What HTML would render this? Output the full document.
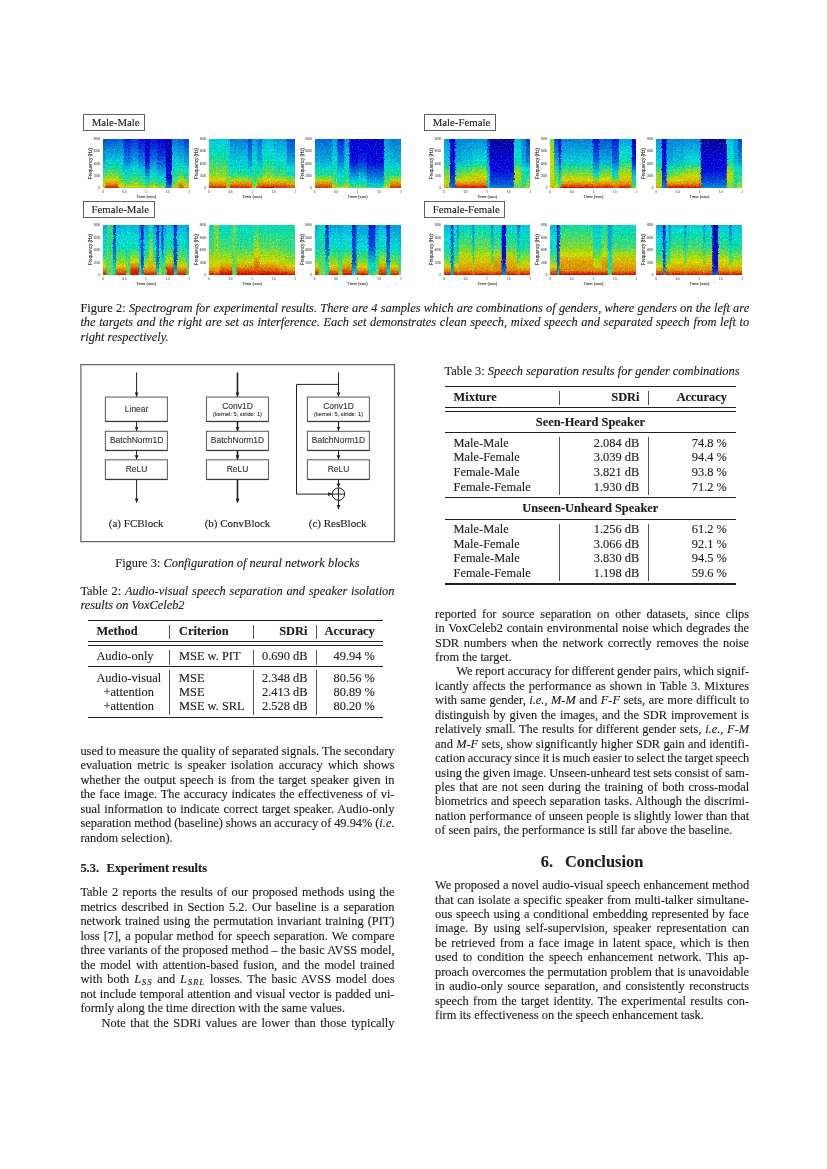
<!DOCTYPE html>
<html><head><meta charset="utf-8"><title>paper</title><style>
*{margin:0;padding:0;box-sizing:border-box}
html,body{width:827px;height:1169px;background:#fff;overflow:hidden}
#pg{position:relative;width:827px;height:1169px;background:#fff;font-family:"Liberation Serif",serif;color:#1c1c1c;filter:blur(0.35px);-webkit-text-stroke-width:0.12px}
.l{position:absolute;font-size:12.4px;line-height:14.45px;white-space:nowrap}
.j{text-align:justify;text-align-last:justify;white-space:normal;height:14.45px;overflow:visible}
.r{text-align:right}
.h2{font-size:16.4px;line-height:20px;text-align:center}
.hr{position:absolute;background:#222}
.vr{background:#555}
.sp{position:absolute;display:block}
.f3{position:absolute;left:0;top:0}
.sans{position:absolute;font-family:"Liberation Sans",sans-serif;color:#333;text-align:center;white-space:nowrap}
.serif{position:absolute;font-family:"Liberation Serif",serif;color:#222;text-align:center;white-space:nowrap}
.lb{position:absolute;border:1.1px solid #606060;background:#fff;font-size:10.8px;line-height:14px;color:#222}
.lb span{position:absolute;left:7.3px;top:-0.6px;white-space:nowrap}
.tk{position:absolute;font-family:"Liberation Sans",sans-serif;font-size:2.8px;line-height:4px;color:#777;width:8px;text-align:center;white-space:nowrap}
.yk{width:11px;text-align:right}
.tl{position:absolute;font-family:"Liberation Sans",sans-serif;font-size:4.3px;line-height:5px;color:#444;width:30px;text-align:center;white-space:nowrap}
.fl{position:absolute;font-family:"Liberation Sans",sans-serif;font-size:4.5px;line-height:5px;color:#333;width:40px;text-align:center;white-space:nowrap;transform:rotate(-90deg)}
sub.m{font-size:8.8px;font-style:italic;vertical-align:-2.2px;line-height:0;letter-spacing:0.9px;margin-left:0.8px}
</style></head>
<body><div id="pg">
<svg width="0" height="0" style="position:absolute"><defs><linearGradient id="g1_0" x1="0" y1="1" x2="0" y2="0"><stop offset="0" stop-color="#ff8000"/><stop offset="0.03" stop-color="#ff8f00"/><stop offset="0.06" stop-color="#ff9e00"/><stop offset="0.1" stop-color="#ffd500"/><stop offset="0.15" stop-color="#e5ff1a"/><stop offset="0.22" stop-color="#acff53"/><stop offset="0.3" stop-color="#6bff94"/><stop offset="0.42" stop-color="#1dffe2"/><stop offset="0.55" stop-color="#00c7ff"/><stop offset="0.7" stop-color="#00a5ff"/><stop offset="0.85" stop-color="#0083ff"/><stop offset="1" stop-color="#0061ff"/></linearGradient><linearGradient id="g1_1" x1="0" y1="1" x2="0" y2="0"><stop offset="0" stop-color="#ff1a00"/><stop offset="0.03" stop-color="#ff1a00"/><stop offset="0.06" stop-color="#ff1a00"/><stop offset="0.1" stop-color="#ff5e00"/><stop offset="0.15" stop-color="#ffb300"/><stop offset="0.22" stop-color="#f6ff09"/><stop offset="0.3" stop-color="#94ff6b"/><stop offset="0.42" stop-color="#46ffb9"/><stop offset="0.55" stop-color="#00f0ff"/><stop offset="0.7" stop-color="#00c0ff"/><stop offset="0.85" stop-color="#0091ff"/><stop offset="1" stop-color="#0061ff"/></linearGradient><linearGradient id="g1_2" x1="0" y1="1" x2="0" y2="0"><stop offset="0" stop-color="#ffb300"/><stop offset="0.03" stop-color="#ffbd00"/><stop offset="0.06" stop-color="#ffc700"/><stop offset="0.1" stop-color="#fff400"/><stop offset="0.15" stop-color="#d1ff2e"/><stop offset="0.22" stop-color="#9dff62"/><stop offset="0.3" stop-color="#61ff9e"/><stop offset="0.42" stop-color="#2bffd4"/><stop offset="0.55" stop-color="#00f0ff"/><stop offset="0.7" stop-color="#00c7ff"/><stop offset="0.85" stop-color="#009eff"/><stop offset="1" stop-color="#0075ff"/></linearGradient><linearGradient id="g1_3" x1="0" y1="1" x2="0" y2="0"><stop offset="0" stop-color="#ffb300"/><stop offset="0.03" stop-color="#ffc700"/><stop offset="0.06" stop-color="#ffdb00"/><stop offset="0.1" stop-color="#daff25"/><stop offset="0.15" stop-color="#80ff80"/><stop offset="0.22" stop-color="#50ffaf"/><stop offset="0.3" stop-color="#1affe5"/><stop offset="0.42" stop-color="#00deff"/><stop offset="0.55" stop-color="#009eff"/><stop offset="0.7" stop-color="#0079ff"/><stop offset="0.85" stop-color="#0053ff"/><stop offset="1" stop-color="#002eff"/></linearGradient><linearGradient id="g1_4" x1="0" y1="1" x2="0" y2="0"><stop offset="0" stop-color="#ff8000"/><stop offset="0.03" stop-color="#ff9900"/><stop offset="0.06" stop-color="#ffb300"/><stop offset="0.1" stop-color="#fff700"/><stop offset="0.15" stop-color="#b3ff4c"/><stop offset="0.22" stop-color="#7eff81"/><stop offset="0.3" stop-color="#42ffbd"/><stop offset="0.42" stop-color="#08fff7"/><stop offset="0.55" stop-color="#00c7ff"/><stop offset="0.7" stop-color="#009bff"/><stop offset="0.85" stop-color="#006fff"/><stop offset="1" stop-color="#0042ff"/></linearGradient><linearGradient id="g1_5" x1="0" y1="1" x2="0" y2="0"><stop offset="0" stop-color="#ffb300"/><stop offset="0.03" stop-color="#ffc700"/><stop offset="0.06" stop-color="#ffdb00"/><stop offset="0.1" stop-color="#daff25"/><stop offset="0.15" stop-color="#80ff80"/><stop offset="0.22" stop-color="#50ffaf"/><stop offset="0.3" stop-color="#1affe5"/><stop offset="0.42" stop-color="#00deff"/><stop offset="0.55" stop-color="#009eff"/><stop offset="0.7" stop-color="#0072ff"/><stop offset="0.85" stop-color="#0046ff"/><stop offset="1" stop-color="#001aff"/></linearGradient><linearGradient id="g1_6" x1="0" y1="1" x2="0" y2="0"><stop offset="0" stop-color="#faff05"/><stop offset="0.03" stop-color="#e5ff1a"/><stop offset="0.06" stop-color="#d1ff2e"/><stop offset="0.1" stop-color="#89ff76"/><stop offset="0.15" stop-color="#2effd1"/><stop offset="0.22" stop-color="#00f4ff"/><stop offset="0.3" stop-color="#00b3ff"/><stop offset="0.42" stop-color="#0069ff"/><stop offset="0.55" stop-color="#001aff"/><stop offset="0.7" stop-color="#0002ff"/><stop offset="0.85" stop-color="#0000e9"/><stop offset="1" stop-color="#0000d1"/></linearGradient><linearGradient id="g1_7" x1="0" y1="1" x2="0" y2="0"><stop offset="0" stop-color="#ff9e00"/><stop offset="0.03" stop-color="#ffb300"/><stop offset="0.06" stop-color="#ffc700"/><stop offset="0.1" stop-color="#e6ff19"/><stop offset="0.15" stop-color="#80ff80"/><stop offset="0.22" stop-color="#50ffaf"/><stop offset="0.3" stop-color="#1affe5"/><stop offset="0.42" stop-color="#00deff"/><stop offset="0.55" stop-color="#009eff"/><stop offset="0.7" stop-color="#0075ff"/><stop offset="0.85" stop-color="#004dff"/><stop offset="1" stop-color="#0024ff"/></linearGradient><linearGradient id="g1_8" x1="0" y1="1" x2="0" y2="0"><stop offset="0" stop-color="#ffe500"/><stop offset="0.03" stop-color="#ffff00"/><stop offset="0.06" stop-color="#e5ff1a"/><stop offset="0.1" stop-color="#a2ff5e"/><stop offset="0.15" stop-color="#4dffb3"/><stop offset="0.22" stop-color="#1dffe2"/><stop offset="0.3" stop-color="#00e5ff"/><stop offset="0.42" stop-color="#00b0ff"/><stop offset="0.55" stop-color="#0075ff"/><stop offset="0.7" stop-color="#0050ff"/><stop offset="0.85" stop-color="#002bff"/><stop offset="1" stop-color="#0005ff"/></linearGradient><linearGradient id="g1_9" x1="0" y1="1" x2="0" y2="0"><stop offset="0" stop-color="#2effd1"/><stop offset="0.03" stop-color="#00faff"/><stop offset="0.06" stop-color="#00c7ff"/><stop offset="0.1" stop-color="#009aff"/><stop offset="0.15" stop-color="#0061ff"/><stop offset="0.22" stop-color="#0040ff"/><stop offset="0.3" stop-color="#001aff"/><stop offset="0.42" stop-color="#0000fb"/><stop offset="0.55" stop-color="#0000db"/><stop offset="0.7" stop-color="#0000d1"/><stop offset="0.85" stop-color="#0000c7"/><stop offset="1" stop-color="#0000bd"/></linearGradient><linearGradient id="g1_10" x1="0" y1="1" x2="0" y2="0"><stop offset="0" stop-color="#faff05"/><stop offset="0.03" stop-color="#e5ff1a"/><stop offset="0.06" stop-color="#d1ff2e"/><stop offset="0.1" stop-color="#b6ff49"/><stop offset="0.15" stop-color="#94ff6b"/><stop offset="0.22" stop-color="#6eff91"/><stop offset="0.3" stop-color="#42ffbd"/><stop offset="0.42" stop-color="#1bffe4"/><stop offset="0.55" stop-color="#00f0ff"/><stop offset="0.7" stop-color="#00ceff"/><stop offset="0.85" stop-color="#00acff"/><stop offset="1" stop-color="#008aff"/></linearGradient><linearGradient id="g1_11" x1="0" y1="1" x2="0" y2="0"><stop offset="0" stop-color="#ff4c00"/><stop offset="0.03" stop-color="#ff4c00"/><stop offset="0.06" stop-color="#ff4c00"/><stop offset="0.1" stop-color="#ff8300"/><stop offset="0.15" stop-color="#ffc700"/><stop offset="0.22" stop-color="#d8ff27"/><stop offset="0.3" stop-color="#6bff94"/><stop offset="0.42" stop-color="#2bffd4"/><stop offset="0.55" stop-color="#00e5ff"/><stop offset="0.7" stop-color="#00c0ff"/><stop offset="0.85" stop-color="#009bff"/><stop offset="1" stop-color="#0075ff"/></linearGradient><linearGradient id="g1_12" x1="0" y1="1" x2="0" y2="0"><stop offset="0" stop-color="#ff8000"/><stop offset="0.03" stop-color="#ff9900"/><stop offset="0.06" stop-color="#ffb300"/><stop offset="0.1" stop-color="#ffed00"/><stop offset="0.15" stop-color="#c7ff38"/><stop offset="0.22" stop-color="#89ff76"/><stop offset="0.3" stop-color="#42ffbd"/><stop offset="0.42" stop-color="#08fff7"/><stop offset="0.55" stop-color="#00c7ff"/><stop offset="0.7" stop-color="#009eff"/><stop offset="0.85" stop-color="#0075ff"/><stop offset="1" stop-color="#004dff"/></linearGradient><linearGradient id="g2_0" x1="0" y1="1" x2="0" y2="0"><stop offset="0" stop-color="#ff1a00"/><stop offset="0.03" stop-color="#ff1a00"/><stop offset="0.06" stop-color="#ff1a00"/><stop offset="0.1" stop-color="#ff5e00"/><stop offset="0.15" stop-color="#ffb300"/><stop offset="0.22" stop-color="#fffa00"/><stop offset="0.3" stop-color="#b3ff4c"/><stop offset="0.42" stop-color="#82ff7d"/><stop offset="0.55" stop-color="#4dffb3"/><stop offset="0.7" stop-color="#24ffdb"/><stop offset="0.85" stop-color="#00faff"/><stop offset="1" stop-color="#00d1ff"/></linearGradient><linearGradient id="g2_1" x1="0" y1="1" x2="0" y2="0"><stop offset="0" stop-color="#b3ff4c"/><stop offset="0.03" stop-color="#ccff33"/><stop offset="0.06" stop-color="#e5ff1a"/><stop offset="0.1" stop-color="#cfff30"/><stop offset="0.15" stop-color="#b3ff4c"/><stop offset="0.22" stop-color="#9bff64"/><stop offset="0.3" stop-color="#80ff80"/><stop offset="0.42" stop-color="#58ffa7"/><stop offset="0.55" stop-color="#2effd1"/><stop offset="0.7" stop-color="#0ffff0"/><stop offset="0.85" stop-color="#00f0ff"/><stop offset="1" stop-color="#00d1ff"/></linearGradient><linearGradient id="g2_2" x1="0" y1="1" x2="0" y2="0"><stop offset="0" stop-color="#ff1a00"/><stop offset="0.03" stop-color="#ff1a00"/><stop offset="0.06" stop-color="#ff1a00"/><stop offset="0.1" stop-color="#ff5e00"/><stop offset="0.15" stop-color="#ffb300"/><stop offset="0.22" stop-color="#d4ff2b"/><stop offset="0.3" stop-color="#4dffb3"/><stop offset="0.42" stop-color="#20ffdf"/><stop offset="0.55" stop-color="#00f0ff"/><stop offset="0.7" stop-color="#00d1ff"/><stop offset="0.85" stop-color="#00b3ff"/><stop offset="1" stop-color="#0094ff"/></linearGradient><linearGradient id="g2_3" x1="0" y1="1" x2="0" y2="0"><stop offset="0" stop-color="#ff3800"/><stop offset="0.03" stop-color="#ff3800"/><stop offset="0.06" stop-color="#ff3800"/><stop offset="0.1" stop-color="#ff6f00"/><stop offset="0.15" stop-color="#ffb300"/><stop offset="0.22" stop-color="#bdff42"/><stop offset="0.3" stop-color="#1affe5"/><stop offset="0.42" stop-color="#00e8ff"/><stop offset="0.55" stop-color="#00b3ff"/><stop offset="0.7" stop-color="#0097ff"/><stop offset="0.85" stop-color="#007cff"/><stop offset="1" stop-color="#0061ff"/></linearGradient><linearGradient id="g2_4" x1="0" y1="1" x2="0" y2="0"><stop offset="0" stop-color="#e5ff1a"/><stop offset="0.03" stop-color="#e5ff1a"/><stop offset="0.06" stop-color="#e5ff1a"/><stop offset="0.1" stop-color="#b8ff47"/><stop offset="0.15" stop-color="#80ff80"/><stop offset="0.22" stop-color="#68ff97"/><stop offset="0.3" stop-color="#4dffb3"/><stop offset="0.42" stop-color="#2affd5"/><stop offset="0.55" stop-color="#05fffa"/><stop offset="0.7" stop-color="#00e9ff"/><stop offset="0.85" stop-color="#00ceff"/><stop offset="1" stop-color="#00b3ff"/></linearGradient><linearGradient id="g2_5" x1="0" y1="1" x2="0" y2="0"><stop offset="0" stop-color="#ff1a00"/><stop offset="0.03" stop-color="#ff1a00"/><stop offset="0.06" stop-color="#ff1a00"/><stop offset="0.1" stop-color="#ff5e00"/><stop offset="0.15" stop-color="#ffb300"/><stop offset="0.22" stop-color="#d4ff2b"/><stop offset="0.3" stop-color="#4dffb3"/><stop offset="0.42" stop-color="#12ffed"/><stop offset="0.55" stop-color="#00d1ff"/><stop offset="0.7" stop-color="#00b6ff"/><stop offset="0.85" stop-color="#009bff"/><stop offset="1" stop-color="#0080ff"/></linearGradient><linearGradient id="g2_6" x1="0" y1="1" x2="0" y2="0"><stop offset="0" stop-color="#fa0000"/><stop offset="0.03" stop-color="#fa0000"/><stop offset="0.06" stop-color="#fa0000"/><stop offset="0.1" stop-color="#ff4c00"/><stop offset="0.15" stop-color="#ffb300"/><stop offset="0.22" stop-color="#f6ff09"/><stop offset="0.3" stop-color="#94ff6b"/><stop offset="0.42" stop-color="#63ff9c"/><stop offset="0.55" stop-color="#2effd1"/><stop offset="0.7" stop-color="#0cfff3"/><stop offset="0.85" stop-color="#00e9ff"/><stop offset="1" stop-color="#00c7ff"/></linearGradient><linearGradient id="g2_7" x1="0" y1="1" x2="0" y2="0"><stop offset="0" stop-color="#ff1a00"/><stop offset="0.03" stop-color="#ff1a00"/><stop offset="0.06" stop-color="#ff1a00"/><stop offset="0.1" stop-color="#ff5e00"/><stop offset="0.15" stop-color="#ffb300"/><stop offset="0.22" stop-color="#e3ff1c"/><stop offset="0.3" stop-color="#6bff94"/><stop offset="0.42" stop-color="#3affc5"/><stop offset="0.55" stop-color="#05fffa"/><stop offset="0.7" stop-color="#00e9ff"/><stop offset="0.85" stop-color="#00ceff"/><stop offset="1" stop-color="#00b3ff"/></linearGradient><linearGradient id="g2_8" x1="0" y1="1" x2="0" y2="0"><stop offset="0" stop-color="#ff4c00"/><stop offset="0.03" stop-color="#ff4c00"/><stop offset="0.06" stop-color="#ff4c00"/><stop offset="0.1" stop-color="#ff8300"/><stop offset="0.15" stop-color="#ffc700"/><stop offset="0.22" stop-color="#bbff44"/><stop offset="0.3" stop-color="#2effd1"/><stop offset="0.42" stop-color="#00fcff"/><stop offset="0.55" stop-color="#00c7ff"/><stop offset="0.7" stop-color="#00a5ff"/><stop offset="0.85" stop-color="#0083ff"/><stop offset="1" stop-color="#0061ff"/></linearGradient><linearGradient id="g3_0" x1="0" y1="1" x2="0" y2="0"><stop offset="0" stop-color="#ff3800"/><stop offset="0.03" stop-color="#ff3800"/><stop offset="0.06" stop-color="#ff3800"/><stop offset="0.1" stop-color="#ff6f00"/><stop offset="0.15" stop-color="#ffb300"/><stop offset="0.22" stop-color="#d4ff2b"/><stop offset="0.3" stop-color="#4dffb3"/><stop offset="0.42" stop-color="#12ffed"/><stop offset="0.55" stop-color="#00d1ff"/><stop offset="0.7" stop-color="#00b6ff"/><stop offset="0.85" stop-color="#009bff"/><stop offset="1" stop-color="#0080ff"/></linearGradient><linearGradient id="g3_1" x1="0" y1="1" x2="0" y2="0"><stop offset="0" stop-color="#ffc700"/><stop offset="0.03" stop-color="#ffd600"/><stop offset="0.06" stop-color="#ffe500"/><stop offset="0.1" stop-color="#deff21"/><stop offset="0.15" stop-color="#94ff6b"/><stop offset="0.22" stop-color="#73ff8c"/><stop offset="0.3" stop-color="#4dffb3"/><stop offset="0.42" stop-color="#2affd5"/><stop offset="0.55" stop-color="#05fffa"/><stop offset="0.7" stop-color="#00e9ff"/><stop offset="0.85" stop-color="#00ceff"/><stop offset="1" stop-color="#00b3ff"/></linearGradient><linearGradient id="g3_2" x1="0" y1="1" x2="0" y2="0"><stop offset="0" stop-color="#ffb300"/><stop offset="0.03" stop-color="#ffdb00"/><stop offset="0.06" stop-color="#faff05"/><stop offset="0.1" stop-color="#adff52"/><stop offset="0.15" stop-color="#4dffb3"/><stop offset="0.22" stop-color="#2bffd4"/><stop offset="0.3" stop-color="#05fffa"/><stop offset="0.42" stop-color="#00d3ff"/><stop offset="0.55" stop-color="#009eff"/><stop offset="0.7" stop-color="#007cff"/><stop offset="0.85" stop-color="#005aff"/><stop offset="1" stop-color="#0038ff"/></linearGradient><linearGradient id="g3_3" x1="0" y1="1" x2="0" y2="0"><stop offset="0" stop-color="#ff9e00"/><stop offset="0.03" stop-color="#ffb300"/><stop offset="0.06" stop-color="#ffc700"/><stop offset="0.1" stop-color="#e6ff19"/><stop offset="0.15" stop-color="#80ff80"/><stop offset="0.22" stop-color="#5effa1"/><stop offset="0.3" stop-color="#38ffc7"/><stop offset="0.42" stop-color="#16ffe9"/><stop offset="0.55" stop-color="#00f0ff"/><stop offset="0.7" stop-color="#00dbff"/><stop offset="0.85" stop-color="#00c7ff"/><stop offset="1" stop-color="#00b3ff"/></linearGradient><linearGradient id="g3_4" x1="0" y1="1" x2="0" y2="0"><stop offset="0" stop-color="#faff05"/><stop offset="0.03" stop-color="#d6ff29"/><stop offset="0.06" stop-color="#b3ff4c"/><stop offset="0.1" stop-color="#6fff91"/><stop offset="0.15" stop-color="#1affe5"/><stop offset="0.22" stop-color="#00e9ff"/><stop offset="0.3" stop-color="#00b3ff"/><stop offset="0.42" stop-color="#0073ff"/><stop offset="0.55" stop-color="#002eff"/><stop offset="0.7" stop-color="#0013ff"/><stop offset="0.85" stop-color="#0000f7"/><stop offset="1" stop-color="#0000db"/></linearGradient><linearGradient id="g3_5" x1="0" y1="1" x2="0" y2="0"><stop offset="0" stop-color="#ffe500"/><stop offset="0.03" stop-color="#f5ff0a"/><stop offset="0.06" stop-color="#d1ff2e"/><stop offset="0.1" stop-color="#89ff76"/><stop offset="0.15" stop-color="#2effd1"/><stop offset="0.22" stop-color="#03fffc"/><stop offset="0.3" stop-color="#00d1ff"/><stop offset="0.42" stop-color="#0091ff"/><stop offset="0.55" stop-color="#004dff"/><stop offset="0.7" stop-color="#0035ff"/><stop offset="0.85" stop-color="#001dff"/><stop offset="1" stop-color="#0005ff"/></linearGradient><linearGradient id="g3_6" x1="0" y1="1" x2="0" y2="0"><stop offset="0" stop-color="#b3ff4c"/><stop offset="0.03" stop-color="#8fff70"/><stop offset="0.06" stop-color="#6bff94"/><stop offset="0.1" stop-color="#30ffcf"/><stop offset="0.15" stop-color="#00e5ff"/><stop offset="0.22" stop-color="#00bfff"/><stop offset="0.3" stop-color="#0094ff"/><stop offset="0.42" stop-color="#005eff"/><stop offset="0.55" stop-color="#0024ff"/><stop offset="0.7" stop-color="#000cff"/><stop offset="0.85" stop-color="#0000f3"/><stop offset="1" stop-color="#0000db"/></linearGradient><linearGradient id="g3_7" x1="0" y1="1" x2="0" y2="0"><stop offset="0" stop-color="#ffb300"/><stop offset="0.03" stop-color="#ffcc00"/><stop offset="0.06" stop-color="#ffe500"/><stop offset="0.1" stop-color="#deff21"/><stop offset="0.15" stop-color="#94ff6b"/><stop offset="0.22" stop-color="#73ff8c"/><stop offset="0.3" stop-color="#4dffb3"/><stop offset="0.42" stop-color="#20ffdf"/><stop offset="0.55" stop-color="#00f0ff"/><stop offset="0.7" stop-color="#00dbff"/><stop offset="0.85" stop-color="#00c7ff"/><stop offset="1" stop-color="#00b3ff"/></linearGradient><linearGradient id="g3_8" x1="0" y1="1" x2="0" y2="0"><stop offset="0" stop-color="#ff3800"/><stop offset="0.03" stop-color="#ff3800"/><stop offset="0.06" stop-color="#ff3800"/><stop offset="0.1" stop-color="#ff6f00"/><stop offset="0.15" stop-color="#ffb300"/><stop offset="0.22" stop-color="#d4ff2b"/><stop offset="0.3" stop-color="#4dffb3"/><stop offset="0.42" stop-color="#17ffe8"/><stop offset="0.55" stop-color="#00dbff"/><stop offset="0.7" stop-color="#00c4ff"/><stop offset="0.85" stop-color="#00acff"/><stop offset="1" stop-color="#0094ff"/></linearGradient><linearGradient id="g4_0" x1="0" y1="1" x2="0" y2="0"><stop offset="0" stop-color="#ffb300"/><stop offset="0.03" stop-color="#ff9900"/><stop offset="0.06" stop-color="#ff8000"/><stop offset="0.1" stop-color="#ffcd00"/><stop offset="0.15" stop-color="#d1ff2e"/><stop offset="0.22" stop-color="#c3ff3c"/><stop offset="0.3" stop-color="#b3ff4c"/><stop offset="0.42" stop-color="#55ffaa"/><stop offset="0.55" stop-color="#00f0ff"/><stop offset="0.7" stop-color="#00dbff"/><stop offset="0.85" stop-color="#00c7ff"/><stop offset="1" stop-color="#00b3ff"/></linearGradient><linearGradient id="g4_1" x1="0" y1="1" x2="0" y2="0"><stop offset="0" stop-color="#00e5ff"/><stop offset="0.03" stop-color="#00ccff"/><stop offset="0.06" stop-color="#00b3ff"/><stop offset="0.1" stop-color="#009cff"/><stop offset="0.15" stop-color="#0080ff"/><stop offset="0.22" stop-color="#0068ff"/><stop offset="0.3" stop-color="#004dff"/><stop offset="0.42" stop-color="#0034ff"/><stop offset="0.55" stop-color="#001aff"/><stop offset="0.7" stop-color="#0008ff"/><stop offset="0.85" stop-color="#0000f7"/><stop offset="1" stop-color="#0000e6"/></linearGradient><linearGradient id="g4_2" x1="0" y1="1" x2="0" y2="0"><stop offset="0" stop-color="#fa0000"/><stop offset="0.03" stop-color="#fa0000"/><stop offset="0.06" stop-color="#fa0000"/><stop offset="0.1" stop-color="#ff4c00"/><stop offset="0.15" stop-color="#ffb300"/><stop offset="0.22" stop-color="#ecff13"/><stop offset="0.3" stop-color="#80ff80"/><stop offset="0.42" stop-color="#2cffd3"/><stop offset="0.55" stop-color="#00d1ff"/><stop offset="0.7" stop-color="#00c0ff"/><stop offset="0.85" stop-color="#00afff"/><stop offset="1" stop-color="#009eff"/></linearGradient><linearGradient id="g4_3" x1="0" y1="1" x2="0" y2="0"><stop offset="0" stop-color="#fa0000"/><stop offset="0.03" stop-color="#fa0000"/><stop offset="0.06" stop-color="#fa0000"/><stop offset="0.1" stop-color="#ff4c00"/><stop offset="0.15" stop-color="#ffb300"/><stop offset="0.22" stop-color="#fffa00"/><stop offset="0.3" stop-color="#b3ff4c"/><stop offset="0.42" stop-color="#51ffae"/><stop offset="0.55" stop-color="#00e5ff"/><stop offset="0.7" stop-color="#00ceff"/><stop offset="0.85" stop-color="#00b6ff"/><stop offset="1" stop-color="#009eff"/></linearGradient><linearGradient id="g4_4" x1="0" y1="1" x2="0" y2="0"><stop offset="0" stop-color="#fa0000"/><stop offset="0.03" stop-color="#fa0000"/><stop offset="0.06" stop-color="#fa0000"/><stop offset="0.1" stop-color="#ff4c00"/><stop offset="0.15" stop-color="#ffb300"/><stop offset="0.22" stop-color="#ffe200"/><stop offset="0.3" stop-color="#e5ff1a"/><stop offset="0.42" stop-color="#7aff85"/><stop offset="0.55" stop-color="#05fffa"/><stop offset="0.7" stop-color="#00e2ff"/><stop offset="0.85" stop-color="#00c0ff"/><stop offset="1" stop-color="#009eff"/></linearGradient><linearGradient id="g4_5" x1="0" y1="1" x2="0" y2="0"><stop offset="0" stop-color="#80ff80"/><stop offset="0.03" stop-color="#57ffa8"/><stop offset="0.06" stop-color="#2effd1"/><stop offset="0.1" stop-color="#25ffda"/><stop offset="0.15" stop-color="#1affe5"/><stop offset="0.22" stop-color="#1affe5"/><stop offset="0.3" stop-color="#1affe5"/><stop offset="0.42" stop-color="#00deff"/><stop offset="0.55" stop-color="#009eff"/><stop offset="0.7" stop-color="#008aff"/><stop offset="0.85" stop-color="#0075ff"/><stop offset="1" stop-color="#0061ff"/></linearGradient><linearGradient id="g4_6" x1="0" y1="1" x2="0" y2="0"><stop offset="0" stop-color="#00e5ff"/><stop offset="0.03" stop-color="#00ccff"/><stop offset="0.06" stop-color="#00b3ff"/><stop offset="0.1" stop-color="#009cff"/><stop offset="0.15" stop-color="#0080ff"/><stop offset="0.22" stop-color="#0068ff"/><stop offset="0.3" stop-color="#004dff"/><stop offset="0.42" stop-color="#0025ff"/><stop offset="0.55" stop-color="#0000fa"/><stop offset="0.7" stop-color="#0000e2"/><stop offset="0.85" stop-color="#0000ca"/><stop offset="1" stop-color="#0000b3"/></linearGradient><linearGradient id="g4_7" x1="0" y1="1" x2="0" y2="0"><stop offset="0" stop-color="#4dffb3"/><stop offset="0.03" stop-color="#66ff99"/><stop offset="0.06" stop-color="#80ff80"/><stop offset="0.1" stop-color="#89ff76"/><stop offset="0.15" stop-color="#94ff6b"/><stop offset="0.22" stop-color="#baff45"/><stop offset="0.3" stop-color="#e5ff1a"/><stop offset="0.42" stop-color="#84ff7b"/><stop offset="0.55" stop-color="#1affe5"/><stop offset="0.7" stop-color="#02fffd"/><stop offset="0.85" stop-color="#00e9ff"/><stop offset="1" stop-color="#00d1ff"/></linearGradient><linearGradient id="g4_8" x1="0" y1="1" x2="0" y2="0"><stop offset="0" stop-color="#b3ff4c"/><stop offset="0.03" stop-color="#99ff66"/><stop offset="0.06" stop-color="#80ff80"/><stop offset="0.1" stop-color="#69ff96"/><stop offset="0.15" stop-color="#4dffb3"/><stop offset="0.22" stop-color="#3effc1"/><stop offset="0.3" stop-color="#2effd1"/><stop offset="0.42" stop-color="#02fffd"/><stop offset="0.55" stop-color="#00d1ff"/><stop offset="0.7" stop-color="#00c0ff"/><stop offset="0.85" stop-color="#00afff"/><stop offset="1" stop-color="#009eff"/></linearGradient><linearGradient id="g4_9" x1="0" y1="1" x2="0" y2="0"><stop offset="0" stop-color="#ffb300"/><stop offset="0.03" stop-color="#ffdb00"/><stop offset="0.06" stop-color="#faff05"/><stop offset="0.1" stop-color="#c3ff3c"/><stop offset="0.15" stop-color="#80ff80"/><stop offset="0.22" stop-color="#68ff97"/><stop offset="0.3" stop-color="#4dffb3"/><stop offset="0.42" stop-color="#00f8ff"/><stop offset="0.55" stop-color="#009eff"/><stop offset="0.7" stop-color="#0083ff"/><stop offset="0.85" stop-color="#0068ff"/><stop offset="1" stop-color="#004dff"/></linearGradient><linearGradient id="g5_0" x1="0" y1="1" x2="0" y2="0"><stop offset="0" stop-color="#ff8000"/><stop offset="0.03" stop-color="#ff8f00"/><stop offset="0.06" stop-color="#ff9e00"/><stop offset="0.1" stop-color="#ffde00"/><stop offset="0.15" stop-color="#d1ff2e"/><stop offset="0.22" stop-color="#dbff24"/><stop offset="0.3" stop-color="#e5ff1a"/><stop offset="0.42" stop-color="#efff10"/><stop offset="0.55" stop-color="#faff05"/><stop offset="0.7" stop-color="#d1ff2e"/><stop offset="0.85" stop-color="#a8ff57"/><stop offset="1" stop-color="#80ff80"/></linearGradient><linearGradient id="g5_1" x1="0" y1="1" x2="0" y2="0"><stop offset="0" stop-color="#ff8000"/><stop offset="0.03" stop-color="#ffa300"/><stop offset="0.06" stop-color="#ffc700"/><stop offset="0.1" stop-color="#fcff03"/><stop offset="0.15" stop-color="#b3ff4c"/><stop offset="0.22" stop-color="#9bff64"/><stop offset="0.3" stop-color="#80ff80"/><stop offset="0.42" stop-color="#2cffd3"/><stop offset="0.55" stop-color="#00d1ff"/><stop offset="0.7" stop-color="#00a5ff"/><stop offset="0.85" stop-color="#0079ff"/><stop offset="1" stop-color="#004dff"/></linearGradient><linearGradient id="g5_2" x1="0" y1="1" x2="0" y2="0"><stop offset="0" stop-color="#e5ff1a"/><stop offset="0.03" stop-color="#b3ff4c"/><stop offset="0.06" stop-color="#80ff80"/><stop offset="0.1" stop-color="#52ffad"/><stop offset="0.15" stop-color="#1affe5"/><stop offset="0.22" stop-color="#02fffd"/><stop offset="0.3" stop-color="#00e5ff"/><stop offset="0.42" stop-color="#00a6ff"/><stop offset="0.55" stop-color="#0061ff"/><stop offset="0.7" stop-color="#0042ff"/><stop offset="0.85" stop-color="#0024ff"/><stop offset="1" stop-color="#0005ff"/></linearGradient><linearGradient id="g5_3" x1="0" y1="1" x2="0" y2="0"><stop offset="0" stop-color="#fa0000"/><stop offset="0.03" stop-color="#fa0000"/><stop offset="0.06" stop-color="#fa0000"/><stop offset="0.1" stop-color="#ff4c00"/><stop offset="0.15" stop-color="#ffb300"/><stop offset="0.22" stop-color="#fffa00"/><stop offset="0.3" stop-color="#b3ff4c"/><stop offset="0.42" stop-color="#55ffaa"/><stop offset="0.55" stop-color="#00f0ff"/><stop offset="0.7" stop-color="#00d1ff"/><stop offset="0.85" stop-color="#00b3ff"/><stop offset="1" stop-color="#0094ff"/></linearGradient><linearGradient id="g5_4" x1="0" y1="1" x2="0" y2="0"><stop offset="0" stop-color="#ff3800"/><stop offset="0.03" stop-color="#ff3800"/><stop offset="0.06" stop-color="#ff3800"/><stop offset="0.1" stop-color="#ff6f00"/><stop offset="0.15" stop-color="#ffb300"/><stop offset="0.22" stop-color="#b3ff4c"/><stop offset="0.3" stop-color="#05fffa"/><stop offset="0.42" stop-color="#00c9ff"/><stop offset="0.55" stop-color="#008aff"/><stop offset="0.7" stop-color="#0068ff"/><stop offset="0.85" stop-color="#0046ff"/><stop offset="1" stop-color="#0024ff"/></linearGradient><linearGradient id="g5_5" x1="0" y1="1" x2="0" y2="0"><stop offset="0" stop-color="#ff1a00"/><stop offset="0.03" stop-color="#ff1a00"/><stop offset="0.06" stop-color="#ff1a00"/><stop offset="0.1" stop-color="#ff5e00"/><stop offset="0.15" stop-color="#ffb300"/><stop offset="0.22" stop-color="#fffa00"/><stop offset="0.3" stop-color="#b3ff4c"/><stop offset="0.42" stop-color="#47ffb8"/><stop offset="0.55" stop-color="#00d1ff"/><stop offset="0.7" stop-color="#00afff"/><stop offset="0.85" stop-color="#008dff"/><stop offset="1" stop-color="#006bff"/></linearGradient><linearGradient id="g5_6" x1="0" y1="1" x2="0" y2="0"><stop offset="0" stop-color="#ff4c00"/><stop offset="0.03" stop-color="#ff4c00"/><stop offset="0.06" stop-color="#ff4c00"/><stop offset="0.1" stop-color="#ff8300"/><stop offset="0.15" stop-color="#ffc700"/><stop offset="0.22" stop-color="#a8ff57"/><stop offset="0.3" stop-color="#05fffa"/><stop offset="0.42" stop-color="#00c9ff"/><stop offset="0.55" stop-color="#008aff"/><stop offset="0.7" stop-color="#006fff"/><stop offset="0.85" stop-color="#0053ff"/><stop offset="1" stop-color="#0038ff"/></linearGradient><linearGradient id="g5_7" x1="0" y1="1" x2="0" y2="0"><stop offset="0" stop-color="#ff1a00"/><stop offset="0.03" stop-color="#ff1a00"/><stop offset="0.06" stop-color="#ff1a00"/><stop offset="0.1" stop-color="#ff5e00"/><stop offset="0.15" stop-color="#ffb300"/><stop offset="0.22" stop-color="#ffe200"/><stop offset="0.3" stop-color="#e5ff1a"/><stop offset="0.42" stop-color="#8dff72"/><stop offset="0.55" stop-color="#2effd1"/><stop offset="0.7" stop-color="#05fffa"/><stop offset="0.85" stop-color="#00dbff"/><stop offset="1" stop-color="#00b3ff"/></linearGradient><linearGradient id="g5_8" x1="0" y1="1" x2="0" y2="0"><stop offset="0" stop-color="#ffb300"/><stop offset="0.03" stop-color="#ffff00"/><stop offset="0.06" stop-color="#b3ff4c"/><stop offset="0.1" stop-color="#85ff7a"/><stop offset="0.15" stop-color="#4dffb3"/><stop offset="0.22" stop-color="#1dffe2"/><stop offset="0.3" stop-color="#00e5ff"/><stop offset="0.42" stop-color="#0092ff"/><stop offset="0.55" stop-color="#0038ff"/><stop offset="0.7" stop-color="#001dff"/><stop offset="0.85" stop-color="#0002ff"/><stop offset="1" stop-color="#0000e6"/></linearGradient><linearGradient id="g6_0" x1="0" y1="1" x2="0" y2="0"><stop offset="0" stop-color="#ffb300"/><stop offset="0.03" stop-color="#ff9900"/><stop offset="0.06" stop-color="#ff8000"/><stop offset="0.1" stop-color="#ffcd00"/><stop offset="0.15" stop-color="#d1ff2e"/><stop offset="0.22" stop-color="#c3ff3c"/><stop offset="0.3" stop-color="#b3ff4c"/><stop offset="0.42" stop-color="#55ffaa"/><stop offset="0.55" stop-color="#00f0ff"/><stop offset="0.7" stop-color="#00dbff"/><stop offset="0.85" stop-color="#00c7ff"/><stop offset="1" stop-color="#00b3ff"/></linearGradient><linearGradient id="g6_1" x1="0" y1="1" x2="0" y2="0"><stop offset="0" stop-color="#00e5ff"/><stop offset="0.03" stop-color="#00ccff"/><stop offset="0.06" stop-color="#00b3ff"/><stop offset="0.1" stop-color="#009cff"/><stop offset="0.15" stop-color="#0080ff"/><stop offset="0.22" stop-color="#0068ff"/><stop offset="0.3" stop-color="#004dff"/><stop offset="0.42" stop-color="#002fff"/><stop offset="0.55" stop-color="#000fff"/><stop offset="0.7" stop-color="#0002ff"/><stop offset="0.85" stop-color="#0000f3"/><stop offset="1" stop-color="#0000e6"/></linearGradient><linearGradient id="g6_2" x1="0" y1="1" x2="0" y2="0"><stop offset="0" stop-color="#fa0000"/><stop offset="0.03" stop-color="#fa0000"/><stop offset="0.06" stop-color="#fa0000"/><stop offset="0.1" stop-color="#ff4c00"/><stop offset="0.15" stop-color="#ffb300"/><stop offset="0.22" stop-color="#ecff13"/><stop offset="0.3" stop-color="#80ff80"/><stop offset="0.42" stop-color="#2cffd3"/><stop offset="0.55" stop-color="#00d1ff"/><stop offset="0.7" stop-color="#00c0ff"/><stop offset="0.85" stop-color="#00afff"/><stop offset="1" stop-color="#009eff"/></linearGradient><linearGradient id="g6_3" x1="0" y1="1" x2="0" y2="0"><stop offset="0" stop-color="#fa0000"/><stop offset="0.03" stop-color="#fa0000"/><stop offset="0.06" stop-color="#fa0000"/><stop offset="0.1" stop-color="#ff4c00"/><stop offset="0.15" stop-color="#ffb300"/><stop offset="0.22" stop-color="#fffa00"/><stop offset="0.3" stop-color="#b3ff4c"/><stop offset="0.42" stop-color="#51ffae"/><stop offset="0.55" stop-color="#00e5ff"/><stop offset="0.7" stop-color="#00ceff"/><stop offset="0.85" stop-color="#00b6ff"/><stop offset="1" stop-color="#009eff"/></linearGradient><linearGradient id="g6_4" x1="0" y1="1" x2="0" y2="0"><stop offset="0" stop-color="#fa0000"/><stop offset="0.03" stop-color="#fa0000"/><stop offset="0.06" stop-color="#fa0000"/><stop offset="0.1" stop-color="#ff4c00"/><stop offset="0.15" stop-color="#ffb300"/><stop offset="0.22" stop-color="#ffe200"/><stop offset="0.3" stop-color="#e5ff1a"/><stop offset="0.42" stop-color="#7aff85"/><stop offset="0.55" stop-color="#05fffa"/><stop offset="0.7" stop-color="#00e2ff"/><stop offset="0.85" stop-color="#00c0ff"/><stop offset="1" stop-color="#009eff"/></linearGradient><linearGradient id="g6_5" x1="0" y1="1" x2="0" y2="0"><stop offset="0" stop-color="#05fffa"/><stop offset="0.03" stop-color="#00e5ff"/><stop offset="0.06" stop-color="#00c7ff"/><stop offset="0.1" stop-color="#00acff"/><stop offset="0.15" stop-color="#008aff"/><stop offset="0.22" stop-color="#006dff"/><stop offset="0.3" stop-color="#004dff"/><stop offset="0.42" stop-color="#0025ff"/><stop offset="0.55" stop-color="#0000fa"/><stop offset="0.7" stop-color="#0000e2"/><stop offset="0.85" stop-color="#0000ca"/><stop offset="1" stop-color="#0000b3"/></linearGradient><linearGradient id="g6_6" x1="0" y1="1" x2="0" y2="0"><stop offset="0" stop-color="#80ff80"/><stop offset="0.03" stop-color="#8aff75"/><stop offset="0.06" stop-color="#94ff6b"/><stop offset="0.1" stop-color="#a2ff5d"/><stop offset="0.15" stop-color="#b3ff4c"/><stop offset="0.22" stop-color="#caff35"/><stop offset="0.3" stop-color="#e5ff1a"/><stop offset="0.42" stop-color="#8dff72"/><stop offset="0.55" stop-color="#2effd1"/><stop offset="0.7" stop-color="#0ffff0"/><stop offset="0.85" stop-color="#00f0ff"/><stop offset="1" stop-color="#00d1ff"/></linearGradient><linearGradient id="g6_7" x1="0" y1="1" x2="0" y2="0"><stop offset="0" stop-color="#b3ff4c"/><stop offset="0.03" stop-color="#99ff66"/><stop offset="0.06" stop-color="#80ff80"/><stop offset="0.1" stop-color="#69ff96"/><stop offset="0.15" stop-color="#4dffb3"/><stop offset="0.22" stop-color="#3effc1"/><stop offset="0.3" stop-color="#2effd1"/><stop offset="0.42" stop-color="#07fff8"/><stop offset="0.55" stop-color="#00dbff"/><stop offset="0.7" stop-color="#00ceff"/><stop offset="0.85" stop-color="#00c0ff"/><stop offset="1" stop-color="#00b3ff"/></linearGradient><linearGradient id="g6_8" x1="0" y1="1" x2="0" y2="0"><stop offset="0" stop-color="#ffb300"/><stop offset="0.03" stop-color="#ffdb00"/><stop offset="0.06" stop-color="#faff05"/><stop offset="0.1" stop-color="#c3ff3c"/><stop offset="0.15" stop-color="#80ff80"/><stop offset="0.22" stop-color="#68ff97"/><stop offset="0.3" stop-color="#4dffb3"/><stop offset="0.42" stop-color="#03fffc"/><stop offset="0.55" stop-color="#00b3ff"/><stop offset="0.7" stop-color="#0097ff"/><stop offset="0.85" stop-color="#007cff"/><stop offset="1" stop-color="#0061ff"/></linearGradient><linearGradient id="g7_0" x1="0" y1="1" x2="0" y2="0"><stop offset="0" stop-color="#ff3800"/><stop offset="0.03" stop-color="#ff2e00"/><stop offset="0.06" stop-color="#ff2400"/><stop offset="0.1" stop-color="#ff5a00"/><stop offset="0.15" stop-color="#ff9e00"/><stop offset="0.22" stop-color="#fffd00"/><stop offset="0.3" stop-color="#94ff6b"/><stop offset="0.42" stop-color="#4fffb0"/><stop offset="0.55" stop-color="#05fffa"/><stop offset="0.7" stop-color="#00f0ff"/><stop offset="0.85" stop-color="#00dbff"/><stop offset="1" stop-color="#00c7ff"/></linearGradient><linearGradient id="g7_1" x1="0" y1="1" x2="0" y2="0"><stop offset="0" stop-color="#80ff80"/><stop offset="0.03" stop-color="#80ff80"/><stop offset="0.06" stop-color="#80ff80"/><stop offset="0.1" stop-color="#80ff80"/><stop offset="0.15" stop-color="#80ff80"/><stop offset="0.22" stop-color="#80ff80"/><stop offset="0.3" stop-color="#80ff80"/><stop offset="0.42" stop-color="#67ff98"/><stop offset="0.55" stop-color="#4dffb3"/><stop offset="0.7" stop-color="#4dffb3"/><stop offset="0.85" stop-color="#4dffb3"/><stop offset="1" stop-color="#4dffb3"/></linearGradient><linearGradient id="g7_2" x1="0" y1="1" x2="0" y2="0"><stop offset="0" stop-color="#4dffb3"/><stop offset="0.03" stop-color="#3dffc2"/><stop offset="0.06" stop-color="#2effd1"/><stop offset="0.1" stop-color="#1cffe3"/><stop offset="0.15" stop-color="#05fffa"/><stop offset="0.22" stop-color="#00e8ff"/><stop offset="0.3" stop-color="#00c7ff"/><stop offset="0.42" stop-color="#009bff"/><stop offset="0.55" stop-color="#006bff"/><stop offset="0.7" stop-color="#005eff"/><stop offset="0.85" stop-color="#0050ff"/><stop offset="1" stop-color="#0042ff"/></linearGradient><linearGradient id="g7_3" x1="0" y1="1" x2="0" y2="0"><stop offset="0" stop-color="#ff3800"/><stop offset="0.03" stop-color="#ff2e00"/><stop offset="0.06" stop-color="#ff2400"/><stop offset="0.1" stop-color="#ff5a00"/><stop offset="0.15" stop-color="#ff9e00"/><stop offset="0.22" stop-color="#ffef00"/><stop offset="0.3" stop-color="#b3ff4c"/><stop offset="0.42" stop-color="#6eff91"/><stop offset="0.55" stop-color="#24ffdb"/><stop offset="0.7" stop-color="#05fffa"/><stop offset="0.85" stop-color="#00e5ff"/><stop offset="1" stop-color="#00c7ff"/></linearGradient><linearGradient id="g7_4" x1="0" y1="1" x2="0" y2="0"><stop offset="0" stop-color="#80ff80"/><stop offset="0.03" stop-color="#80ff80"/><stop offset="0.06" stop-color="#80ff80"/><stop offset="0.1" stop-color="#80ff80"/><stop offset="0.15" stop-color="#80ff80"/><stop offset="0.22" stop-color="#80ff80"/><stop offset="0.3" stop-color="#80ff80"/><stop offset="0.42" stop-color="#4fffb0"/><stop offset="0.55" stop-color="#1affe5"/><stop offset="0.7" stop-color="#09fff6"/><stop offset="0.85" stop-color="#00f7ff"/><stop offset="1" stop-color="#00e5ff"/></linearGradient><linearGradient id="g7_5" x1="0" y1="1" x2="0" y2="0"><stop offset="0" stop-color="#ff3800"/><stop offset="0.03" stop-color="#ff2e00"/><stop offset="0.06" stop-color="#ff2400"/><stop offset="0.1" stop-color="#ff3600"/><stop offset="0.15" stop-color="#ff4c00"/><stop offset="0.22" stop-color="#ffa200"/><stop offset="0.3" stop-color="#faff05"/><stop offset="0.42" stop-color="#93ff6c"/><stop offset="0.55" stop-color="#24ffdb"/><stop offset="0.7" stop-color="#05fffa"/><stop offset="0.85" stop-color="#00e5ff"/><stop offset="1" stop-color="#00c7ff"/></linearGradient><linearGradient id="g7_6" x1="0" y1="1" x2="0" y2="0"><stop offset="0" stop-color="#80ff80"/><stop offset="0.03" stop-color="#75ff8a"/><stop offset="0.06" stop-color="#6bff94"/><stop offset="0.1" stop-color="#5effa2"/><stop offset="0.15" stop-color="#4dffb3"/><stop offset="0.22" stop-color="#3effc1"/><stop offset="0.3" stop-color="#2effd1"/><stop offset="0.42" stop-color="#02fffd"/><stop offset="0.55" stop-color="#00d1ff"/><stop offset="0.7" stop-color="#00c0ff"/><stop offset="0.85" stop-color="#00afff"/><stop offset="1" stop-color="#009eff"/></linearGradient><linearGradient id="g7_7" x1="0" y1="1" x2="0" y2="0"><stop offset="0" stop-color="#1affe5"/><stop offset="0.03" stop-color="#00ffff"/><stop offset="0.06" stop-color="#00e5ff"/><stop offset="0.1" stop-color="#00cfff"/><stop offset="0.15" stop-color="#00b3ff"/><stop offset="0.22" stop-color="#008cff"/><stop offset="0.3" stop-color="#0061ff"/><stop offset="0.42" stop-color="#0066ff"/><stop offset="0.55" stop-color="#006bff"/><stop offset="0.7" stop-color="#005eff"/><stop offset="0.85" stop-color="#0050ff"/><stop offset="1" stop-color="#0042ff"/></linearGradient><linearGradient id="g7_8" x1="0" y1="1" x2="0" y2="0"><stop offset="0" stop-color="#ff3800"/><stop offset="0.03" stop-color="#ff2e00"/><stop offset="0.06" stop-color="#ff2400"/><stop offset="0.1" stop-color="#ff6300"/><stop offset="0.15" stop-color="#ffb300"/><stop offset="0.22" stop-color="#f6ff09"/><stop offset="0.3" stop-color="#94ff6b"/><stop offset="0.42" stop-color="#4fffb0"/><stop offset="0.55" stop-color="#05fffa"/><stop offset="0.7" stop-color="#00e9ff"/><stop offset="0.85" stop-color="#00ceff"/><stop offset="1" stop-color="#00b3ff"/></linearGradient><linearGradient id="g7_9" x1="0" y1="1" x2="0" y2="0"><stop offset="0" stop-color="#ff3800"/><stop offset="0.03" stop-color="#ff2e00"/><stop offset="0.06" stop-color="#ff2400"/><stop offset="0.1" stop-color="#ff6300"/><stop offset="0.15" stop-color="#ffb300"/><stop offset="0.22" stop-color="#ffca00"/><stop offset="0.3" stop-color="#ffe500"/><stop offset="0.42" stop-color="#deff21"/><stop offset="0.55" stop-color="#9eff61"/><stop offset="0.7" stop-color="#61ff9e"/><stop offset="0.85" stop-color="#24ffdb"/><stop offset="1" stop-color="#00e5ff"/></linearGradient><linearGradient id="g7_10" x1="0" y1="1" x2="0" y2="0"><stop offset="0" stop-color="#ff3800"/><stop offset="0.03" stop-color="#ff2e00"/><stop offset="0.06" stop-color="#ff2400"/><stop offset="0.1" stop-color="#ff6300"/><stop offset="0.15" stop-color="#ffb300"/><stop offset="0.22" stop-color="#ecff13"/><stop offset="0.3" stop-color="#80ff80"/><stop offset="0.42" stop-color="#45ffba"/><stop offset="0.55" stop-color="#05fffa"/><stop offset="0.7" stop-color="#00e9ff"/><stop offset="0.85" stop-color="#00ceff"/><stop offset="1" stop-color="#00b3ff"/></linearGradient><linearGradient id="g7_11" x1="0" y1="1" x2="0" y2="0"><stop offset="0" stop-color="#4dffb3"/><stop offset="0.03" stop-color="#33ffcc"/><stop offset="0.06" stop-color="#1affe5"/><stop offset="0.1" stop-color="#03fffc"/><stop offset="0.15" stop-color="#00e5ff"/><stop offset="0.22" stop-color="#00b6ff"/><stop offset="0.3" stop-color="#0080ff"/><stop offset="0.42" stop-color="#0076ff"/><stop offset="0.55" stop-color="#006bff"/><stop offset="0.7" stop-color="#005eff"/><stop offset="0.85" stop-color="#0050ff"/><stop offset="1" stop-color="#0042ff"/></linearGradient><linearGradient id="g7_12" x1="0" y1="1" x2="0" y2="0"><stop offset="0" stop-color="#ff8000"/><stop offset="0.03" stop-color="#ff9900"/><stop offset="0.06" stop-color="#ffb300"/><stop offset="0.1" stop-color="#fff700"/><stop offset="0.15" stop-color="#b3ff4c"/><stop offset="0.22" stop-color="#9bff64"/><stop offset="0.3" stop-color="#80ff80"/><stop offset="0.42" stop-color="#45ffba"/><stop offset="0.55" stop-color="#05fffa"/><stop offset="0.7" stop-color="#00e9ff"/><stop offset="0.85" stop-color="#00ceff"/><stop offset="1" stop-color="#00b3ff"/></linearGradient><linearGradient id="g7_13" x1="0" y1="1" x2="0" y2="0"><stop offset="0" stop-color="#80ff80"/><stop offset="0.03" stop-color="#66ff99"/><stop offset="0.06" stop-color="#4dffb3"/><stop offset="0.1" stop-color="#3fffc0"/><stop offset="0.15" stop-color="#2effd1"/><stop offset="0.22" stop-color="#1bffe4"/><stop offset="0.3" stop-color="#05fffa"/><stop offset="0.42" stop-color="#00bbff"/><stop offset="0.55" stop-color="#006bff"/><stop offset="0.7" stop-color="#005eff"/><stop offset="0.85" stop-color="#0050ff"/><stop offset="1" stop-color="#0042ff"/></linearGradient><linearGradient id="g7_14" x1="0" y1="1" x2="0" y2="0"><stop offset="0" stop-color="#b3ff4c"/><stop offset="0.03" stop-color="#a3ff5c"/><stop offset="0.06" stop-color="#94ff6b"/><stop offset="0.1" stop-color="#8bff74"/><stop offset="0.15" stop-color="#80ff80"/><stop offset="0.22" stop-color="#76ff89"/><stop offset="0.3" stop-color="#6bff94"/><stop offset="0.42" stop-color="#3affc5"/><stop offset="0.55" stop-color="#05fffa"/><stop offset="0.7" stop-color="#00e9ff"/><stop offset="0.85" stop-color="#00ceff"/><stop offset="1" stop-color="#00b3ff"/></linearGradient><linearGradient id="g7_15" x1="0" y1="1" x2="0" y2="0"><stop offset="0" stop-color="#ff3800"/><stop offset="0.03" stop-color="#ff2e00"/><stop offset="0.06" stop-color="#ff2400"/><stop offset="0.1" stop-color="#ff3600"/><stop offset="0.15" stop-color="#ff4c00"/><stop offset="0.22" stop-color="#ffac00"/><stop offset="0.3" stop-color="#e5ff1a"/><stop offset="0.42" stop-color="#92ff6d"/><stop offset="0.55" stop-color="#38ffc7"/><stop offset="0.7" stop-color="#13ffec"/><stop offset="0.85" stop-color="#00ecff"/><stop offset="1" stop-color="#00c7ff"/></linearGradient><linearGradient id="g7_16" x1="0" y1="1" x2="0" y2="0"><stop offset="0" stop-color="#4dffb3"/><stop offset="0.03" stop-color="#33ffcc"/><stop offset="0.06" stop-color="#1affe5"/><stop offset="0.1" stop-color="#00f9ff"/><stop offset="0.15" stop-color="#00d1ff"/><stop offset="0.22" stop-color="#00a2ff"/><stop offset="0.3" stop-color="#006bff"/><stop offset="0.42" stop-color="#006bff"/><stop offset="0.55" stop-color="#006bff"/><stop offset="0.7" stop-color="#005eff"/><stop offset="0.85" stop-color="#0050ff"/><stop offset="1" stop-color="#0042ff"/></linearGradient><linearGradient id="g7_17" x1="0" y1="1" x2="0" y2="0"><stop offset="0" stop-color="#ff3800"/><stop offset="0.03" stop-color="#ff2e00"/><stop offset="0.06" stop-color="#ff2400"/><stop offset="0.1" stop-color="#ff5a00"/><stop offset="0.15" stop-color="#ff9e00"/><stop offset="0.22" stop-color="#ffef00"/><stop offset="0.3" stop-color="#b3ff4c"/><stop offset="0.42" stop-color="#6eff91"/><stop offset="0.55" stop-color="#24ffdb"/><stop offset="0.7" stop-color="#05fffa"/><stop offset="0.85" stop-color="#00e5ff"/><stop offset="1" stop-color="#00c7ff"/></linearGradient><linearGradient id="g7_18" x1="0" y1="1" x2="0" y2="0"><stop offset="0" stop-color="#b3ff4c"/><stop offset="0.03" stop-color="#a3ff5c"/><stop offset="0.06" stop-color="#94ff6b"/><stop offset="0.1" stop-color="#8bff74"/><stop offset="0.15" stop-color="#80ff80"/><stop offset="0.22" stop-color="#68ff97"/><stop offset="0.3" stop-color="#4dffb3"/><stop offset="0.42" stop-color="#1cffe3"/><stop offset="0.55" stop-color="#00e5ff"/><stop offset="0.7" stop-color="#00d4ff"/><stop offset="0.85" stop-color="#00c3ff"/><stop offset="1" stop-color="#00b3ff"/></linearGradient><linearGradient id="g8_0" x1="0" y1="1" x2="0" y2="0"><stop offset="0" stop-color="#ff1a00"/><stop offset="0.03" stop-color="#ff1a00"/><stop offset="0.06" stop-color="#ff1a00"/><stop offset="0.1" stop-color="#ff5e00"/><stop offset="0.15" stop-color="#ffb300"/><stop offset="0.22" stop-color="#ffe200"/><stop offset="0.3" stop-color="#e5ff1a"/><stop offset="0.42" stop-color="#a1ff5e"/><stop offset="0.55" stop-color="#57ffa8"/><stop offset="0.7" stop-color="#3fffc0"/><stop offset="0.85" stop-color="#27ffd8"/><stop offset="1" stop-color="#0ffff0"/></linearGradient><linearGradient id="g8_1" x1="0" y1="1" x2="0" y2="0"><stop offset="0" stop-color="#ff4c00"/><stop offset="0.03" stop-color="#ff4c00"/><stop offset="0.06" stop-color="#ff4c00"/><stop offset="0.1" stop-color="#ff8300"/><stop offset="0.15" stop-color="#ffc700"/><stop offset="0.22" stop-color="#ffed00"/><stop offset="0.3" stop-color="#e5ff1a"/><stop offset="0.42" stop-color="#c3ff3c"/><stop offset="0.55" stop-color="#9eff61"/><stop offset="0.7" stop-color="#9bff64"/><stop offset="0.85" stop-color="#97ff68"/><stop offset="1" stop-color="#94ff6b"/></linearGradient><linearGradient id="g8_2" x1="0" y1="1" x2="0" y2="0"><stop offset="0" stop-color="#fa0000"/><stop offset="0.03" stop-color="#fa0000"/><stop offset="0.06" stop-color="#fa0000"/><stop offset="0.1" stop-color="#ff3600"/><stop offset="0.15" stop-color="#ff8000"/><stop offset="0.22" stop-color="#ffc700"/><stop offset="0.3" stop-color="#e5ff1a"/><stop offset="0.42" stop-color="#abff54"/><stop offset="0.55" stop-color="#6bff94"/><stop offset="0.7" stop-color="#46ffb9"/><stop offset="0.85" stop-color="#20ffdf"/><stop offset="1" stop-color="#00faff"/></linearGradient><linearGradient id="g8_3" x1="0" y1="1" x2="0" y2="0"><stop offset="0" stop-color="#4dffb3"/><stop offset="0.03" stop-color="#66ff99"/><stop offset="0.06" stop-color="#80ff80"/><stop offset="0.1" stop-color="#80ff80"/><stop offset="0.15" stop-color="#80ff80"/><stop offset="0.22" stop-color="#80ff80"/><stop offset="0.3" stop-color="#80ff80"/><stop offset="0.42" stop-color="#80ff80"/><stop offset="0.55" stop-color="#80ff80"/><stop offset="0.7" stop-color="#86ff79"/><stop offset="0.85" stop-color="#8dff72"/><stop offset="1" stop-color="#94ff6b"/></linearGradient><linearGradient id="g8_4" x1="0" y1="1" x2="0" y2="0"><stop offset="0" stop-color="#fa0000"/><stop offset="0.03" stop-color="#fa0000"/><stop offset="0.06" stop-color="#fa0000"/><stop offset="0.1" stop-color="#ff3600"/><stop offset="0.15" stop-color="#ff8000"/><stop offset="0.22" stop-color="#ffc700"/><stop offset="0.3" stop-color="#e5ff1a"/><stop offset="0.42" stop-color="#a1ff5e"/><stop offset="0.55" stop-color="#57ffa8"/><stop offset="0.7" stop-color="#38ffc7"/><stop offset="0.85" stop-color="#1affe5"/><stop offset="1" stop-color="#00faff"/></linearGradient><linearGradient id="g8_5" x1="0" y1="1" x2="0" y2="0"><stop offset="0" stop-color="#ff1a00"/><stop offset="0.03" stop-color="#ff1a00"/><stop offset="0.06" stop-color="#ff1a00"/><stop offset="0.1" stop-color="#ff4700"/><stop offset="0.15" stop-color="#ff8000"/><stop offset="0.22" stop-color="#ff9700"/><stop offset="0.3" stop-color="#ffb300"/><stop offset="0.42" stop-color="#fff700"/><stop offset="0.55" stop-color="#bdff42"/><stop offset="0.7" stop-color="#8dff72"/><stop offset="0.85" stop-color="#5effa2"/><stop offset="1" stop-color="#2effd1"/></linearGradient><linearGradient id="g8_6" x1="0" y1="1" x2="0" y2="0"><stop offset="0" stop-color="#fa0000"/><stop offset="0.03" stop-color="#fa0000"/><stop offset="0.06" stop-color="#fa0000"/><stop offset="0.1" stop-color="#ff3600"/><stop offset="0.15" stop-color="#ff8000"/><stop offset="0.22" stop-color="#ffbd00"/><stop offset="0.3" stop-color="#faff05"/><stop offset="0.42" stop-color="#bfff40"/><stop offset="0.55" stop-color="#80ff80"/><stop offset="0.7" stop-color="#5affa5"/><stop offset="0.85" stop-color="#35ffca"/><stop offset="1" stop-color="#0ffff0"/></linearGradient><linearGradient id="g8_7" x1="0" y1="1" x2="0" y2="0"><stop offset="0" stop-color="#fa0000"/><stop offset="0.03" stop-color="#fa0000"/><stop offset="0.06" stop-color="#fa0000"/><stop offset="0.1" stop-color="#ff4300"/><stop offset="0.15" stop-color="#ff9e00"/><stop offset="0.22" stop-color="#ffd700"/><stop offset="0.3" stop-color="#e5ff1a"/><stop offset="0.42" stop-color="#abff54"/><stop offset="0.55" stop-color="#6bff94"/><stop offset="0.7" stop-color="#4cffb3"/><stop offset="0.85" stop-color="#2effd1"/><stop offset="1" stop-color="#0ffff0"/></linearGradient><linearGradient id="g8_8" x1="0" y1="1" x2="0" y2="0"><stop offset="0" stop-color="#ff1a00"/><stop offset="0.03" stop-color="#ff1a00"/><stop offset="0.06" stop-color="#ff1a00"/><stop offset="0.1" stop-color="#ff5e00"/><stop offset="0.15" stop-color="#ffb300"/><stop offset="0.22" stop-color="#fffa00"/><stop offset="0.3" stop-color="#b3ff4c"/><stop offset="0.42" stop-color="#86ff79"/><stop offset="0.55" stop-color="#57ffa8"/><stop offset="0.7" stop-color="#49ffb6"/><stop offset="0.85" stop-color="#3cffc3"/><stop offset="1" stop-color="#2effd1"/></linearGradient><linearGradient id="g9_0" x1="0" y1="1" x2="0" y2="0"><stop offset="0" stop-color="#ff3800"/><stop offset="0.03" stop-color="#ff2e00"/><stop offset="0.06" stop-color="#ff2400"/><stop offset="0.1" stop-color="#ff5a00"/><stop offset="0.15" stop-color="#ff9e00"/><stop offset="0.22" stop-color="#f7ff08"/><stop offset="0.3" stop-color="#80ff80"/><stop offset="0.42" stop-color="#45ffba"/><stop offset="0.55" stop-color="#05fffa"/><stop offset="0.7" stop-color="#00f0ff"/><stop offset="0.85" stop-color="#00dbff"/><stop offset="1" stop-color="#00c7ff"/></linearGradient><linearGradient id="g9_1" x1="0" y1="1" x2="0" y2="0"><stop offset="0" stop-color="#b3ff4c"/><stop offset="0.03" stop-color="#b3ff4c"/><stop offset="0.06" stop-color="#b3ff4c"/><stop offset="0.1" stop-color="#a5ff5a"/><stop offset="0.15" stop-color="#94ff6b"/><stop offset="0.22" stop-color="#8aff75"/><stop offset="0.3" stop-color="#80ff80"/><stop offset="0.42" stop-color="#5dffa2"/><stop offset="0.55" stop-color="#38ffc7"/><stop offset="0.7" stop-color="#2effd1"/><stop offset="0.85" stop-color="#24ffdb"/><stop offset="1" stop-color="#1affe5"/></linearGradient><linearGradient id="g9_2" x1="0" y1="1" x2="0" y2="0"><stop offset="0" stop-color="#80ff80"/><stop offset="0.03" stop-color="#66ff99"/><stop offset="0.06" stop-color="#4dffb3"/><stop offset="0.1" stop-color="#36ffc9"/><stop offset="0.15" stop-color="#1affe5"/><stop offset="0.22" stop-color="#02fffd"/><stop offset="0.3" stop-color="#00e5ff"/><stop offset="0.42" stop-color="#00abff"/><stop offset="0.55" stop-color="#006bff"/><stop offset="0.7" stop-color="#005eff"/><stop offset="0.85" stop-color="#0050ff"/><stop offset="1" stop-color="#0042ff"/></linearGradient><linearGradient id="g9_3" x1="0" y1="1" x2="0" y2="0"><stop offset="0" stop-color="#ff3800"/><stop offset="0.03" stop-color="#ff2e00"/><stop offset="0.06" stop-color="#ff2400"/><stop offset="0.1" stop-color="#ff6300"/><stop offset="0.15" stop-color="#ffb300"/><stop offset="0.22" stop-color="#fffa00"/><stop offset="0.3" stop-color="#b3ff4c"/><stop offset="0.42" stop-color="#69ff96"/><stop offset="0.55" stop-color="#1affe5"/><stop offset="0.7" stop-color="#00f7ff"/><stop offset="0.85" stop-color="#00d5ff"/><stop offset="1" stop-color="#00b3ff"/></linearGradient><linearGradient id="g9_4" x1="0" y1="1" x2="0" y2="0"><stop offset="0" stop-color="#b3ff4c"/><stop offset="0.03" stop-color="#a3ff5c"/><stop offset="0.06" stop-color="#94ff6b"/><stop offset="0.1" stop-color="#8bff74"/><stop offset="0.15" stop-color="#80ff80"/><stop offset="0.22" stop-color="#76ff89"/><stop offset="0.3" stop-color="#6bff94"/><stop offset="0.42" stop-color="#3affc5"/><stop offset="0.55" stop-color="#05fffa"/><stop offset="0.7" stop-color="#00e9ff"/><stop offset="0.85" stop-color="#00ceff"/><stop offset="1" stop-color="#00b3ff"/></linearGradient><linearGradient id="g9_5" x1="0" y1="1" x2="0" y2="0"><stop offset="0" stop-color="#ff3800"/><stop offset="0.03" stop-color="#ff2e00"/><stop offset="0.06" stop-color="#ff2400"/><stop offset="0.1" stop-color="#ff4d00"/><stop offset="0.15" stop-color="#ff8000"/><stop offset="0.22" stop-color="#ffd000"/><stop offset="0.3" stop-color="#d1ff2e"/><stop offset="0.42" stop-color="#79ff86"/><stop offset="0.55" stop-color="#1affe5"/><stop offset="0.7" stop-color="#00fdff"/><stop offset="0.85" stop-color="#00e2ff"/><stop offset="1" stop-color="#00c7ff"/></linearGradient><linearGradient id="g9_6" x1="0" y1="1" x2="0" y2="0"><stop offset="0" stop-color="#4dffb3"/><stop offset="0.03" stop-color="#33ffcc"/><stop offset="0.06" stop-color="#1affe5"/><stop offset="0.1" stop-color="#00f9ff"/><stop offset="0.15" stop-color="#00d1ff"/><stop offset="0.22" stop-color="#00a2ff"/><stop offset="0.3" stop-color="#006bff"/><stop offset="0.42" stop-color="#006bff"/><stop offset="0.55" stop-color="#006bff"/><stop offset="0.7" stop-color="#005eff"/><stop offset="0.85" stop-color="#0050ff"/><stop offset="1" stop-color="#0042ff"/></linearGradient><linearGradient id="g9_7" x1="0" y1="1" x2="0" y2="0"><stop offset="0" stop-color="#ff3800"/><stop offset="0.03" stop-color="#ff2e00"/><stop offset="0.06" stop-color="#ff2400"/><stop offset="0.1" stop-color="#ff6300"/><stop offset="0.15" stop-color="#ffb300"/><stop offset="0.22" stop-color="#f6ff09"/><stop offset="0.3" stop-color="#94ff6b"/><stop offset="0.42" stop-color="#4fffb0"/><stop offset="0.55" stop-color="#05fffa"/><stop offset="0.7" stop-color="#00e9ff"/><stop offset="0.85" stop-color="#00ceff"/><stop offset="1" stop-color="#00b3ff"/></linearGradient><linearGradient id="g9_8" x1="0" y1="1" x2="0" y2="0"><stop offset="0" stop-color="#80ff80"/><stop offset="0.03" stop-color="#70ff8f"/><stop offset="0.06" stop-color="#61ff9e"/><stop offset="0.1" stop-color="#41ffbe"/><stop offset="0.15" stop-color="#1affe5"/><stop offset="0.22" stop-color="#02fffd"/><stop offset="0.3" stop-color="#00e5ff"/><stop offset="0.42" stop-color="#00abff"/><stop offset="0.55" stop-color="#006bff"/><stop offset="0.7" stop-color="#005eff"/><stop offset="0.85" stop-color="#0050ff"/><stop offset="1" stop-color="#0042ff"/></linearGradient><linearGradient id="g9_9" x1="0" y1="1" x2="0" y2="0"><stop offset="0" stop-color="#faff05"/><stop offset="0.03" stop-color="#e0ff1f"/><stop offset="0.06" stop-color="#c7ff38"/><stop offset="0.1" stop-color="#a7ff58"/><stop offset="0.15" stop-color="#80ff80"/><stop offset="0.22" stop-color="#71ff8e"/><stop offset="0.3" stop-color="#61ff9e"/><stop offset="0.42" stop-color="#2bffd4"/><stop offset="0.55" stop-color="#00f0ff"/><stop offset="0.7" stop-color="#00dbff"/><stop offset="0.85" stop-color="#00c7ff"/><stop offset="1" stop-color="#00b3ff"/></linearGradient><linearGradient id="g9_10" x1="0" y1="1" x2="0" y2="0"><stop offset="0" stop-color="#ff3800"/><stop offset="0.03" stop-color="#ff2e00"/><stop offset="0.06" stop-color="#ff2400"/><stop offset="0.1" stop-color="#ff4d00"/><stop offset="0.15" stop-color="#ff8000"/><stop offset="0.22" stop-color="#ffd000"/><stop offset="0.3" stop-color="#d1ff2e"/><stop offset="0.42" stop-color="#79ff86"/><stop offset="0.55" stop-color="#1affe5"/><stop offset="0.7" stop-color="#00fdff"/><stop offset="0.85" stop-color="#00e2ff"/><stop offset="1" stop-color="#00c7ff"/></linearGradient><linearGradient id="g9_11" x1="0" y1="1" x2="0" y2="0"><stop offset="0" stop-color="#4dffb3"/><stop offset="0.03" stop-color="#3dffc2"/><stop offset="0.06" stop-color="#2effd1"/><stop offset="0.1" stop-color="#13ffec"/><stop offset="0.15" stop-color="#00f0ff"/><stop offset="0.22" stop-color="#00c5ff"/><stop offset="0.3" stop-color="#0094ff"/><stop offset="0.42" stop-color="#0080ff"/><stop offset="0.55" stop-color="#006bff"/><stop offset="0.7" stop-color="#005eff"/><stop offset="0.85" stop-color="#0050ff"/><stop offset="1" stop-color="#0042ff"/></linearGradient><linearGradient id="g9_12" x1="0" y1="1" x2="0" y2="0"><stop offset="0" stop-color="#ff3800"/><stop offset="0.03" stop-color="#ff2e00"/><stop offset="0.06" stop-color="#ff2400"/><stop offset="0.1" stop-color="#ff6300"/><stop offset="0.15" stop-color="#ffb300"/><stop offset="0.22" stop-color="#f6ff09"/><stop offset="0.3" stop-color="#94ff6b"/><stop offset="0.42" stop-color="#4fffb0"/><stop offset="0.55" stop-color="#05fffa"/><stop offset="0.7" stop-color="#00e9ff"/><stop offset="0.85" stop-color="#00ceff"/><stop offset="1" stop-color="#00b3ff"/></linearGradient><linearGradient id="g9_13" x1="0" y1="1" x2="0" y2="0"><stop offset="0" stop-color="#b3ff4c"/><stop offset="0.03" stop-color="#a3ff5c"/><stop offset="0.06" stop-color="#94ff6b"/><stop offset="0.1" stop-color="#82ff7d"/><stop offset="0.15" stop-color="#6bff94"/><stop offset="0.22" stop-color="#5dffa2"/><stop offset="0.3" stop-color="#4dffb3"/><stop offset="0.42" stop-color="#1cffe3"/><stop offset="0.55" stop-color="#00e5ff"/><stop offset="0.7" stop-color="#00d4ff"/><stop offset="0.85" stop-color="#00c3ff"/><stop offset="1" stop-color="#00b3ff"/></linearGradient><linearGradient id="g10_0" x1="0" y1="1" x2="0" y2="0"><stop offset="0" stop-color="#ff1a00"/><stop offset="0.03" stop-color="#ff1a00"/><stop offset="0.06" stop-color="#ff1a00"/><stop offset="0.1" stop-color="#ff5e00"/><stop offset="0.15" stop-color="#ffb300"/><stop offset="0.22" stop-color="#f6ff09"/><stop offset="0.3" stop-color="#94ff6b"/><stop offset="0.42" stop-color="#59ffa6"/><stop offset="0.55" stop-color="#1affe5"/><stop offset="0.7" stop-color="#02fffd"/><stop offset="0.85" stop-color="#00e9ff"/><stop offset="1" stop-color="#00d1ff"/></linearGradient><linearGradient id="g10_1" x1="0" y1="1" x2="0" y2="0"><stop offset="0" stop-color="#1affe5"/><stop offset="0.03" stop-color="#00ffff"/><stop offset="0.06" stop-color="#00e5ff"/><stop offset="0.1" stop-color="#00cfff"/><stop offset="0.15" stop-color="#00b3ff"/><stop offset="0.22" stop-color="#00a9ff"/><stop offset="0.3" stop-color="#009eff"/><stop offset="0.42" stop-color="#008fff"/><stop offset="0.55" stop-color="#0080ff"/><stop offset="0.7" stop-color="#0075ff"/><stop offset="0.85" stop-color="#006bff"/><stop offset="1" stop-color="#0061ff"/></linearGradient><linearGradient id="g10_2" x1="0" y1="1" x2="0" y2="0"><stop offset="0" stop-color="#ff1a00"/><stop offset="0.03" stop-color="#ff1a00"/><stop offset="0.06" stop-color="#ff1a00"/><stop offset="0.1" stop-color="#ff5e00"/><stop offset="0.15" stop-color="#ffb300"/><stop offset="0.22" stop-color="#f6ff09"/><stop offset="0.3" stop-color="#94ff6b"/><stop offset="0.42" stop-color="#63ff9c"/><stop offset="0.55" stop-color="#2effd1"/><stop offset="0.7" stop-color="#1dffe2"/><stop offset="0.85" stop-color="#0cfff3"/><stop offset="1" stop-color="#00faff"/></linearGradient><linearGradient id="g10_3" x1="0" y1="1" x2="0" y2="0"><stop offset="0" stop-color="#ff4c00"/><stop offset="0.03" stop-color="#ff4c00"/><stop offset="0.06" stop-color="#ff4c00"/><stop offset="0.1" stop-color="#ff8300"/><stop offset="0.15" stop-color="#ffc700"/><stop offset="0.22" stop-color="#d8ff27"/><stop offset="0.3" stop-color="#6bff94"/><stop offset="0.42" stop-color="#30ffcf"/><stop offset="0.55" stop-color="#00f0ff"/><stop offset="0.7" stop-color="#00caff"/><stop offset="0.85" stop-color="#00a5ff"/><stop offset="1" stop-color="#0080ff"/></linearGradient><linearGradient id="g10_4" x1="0" y1="1" x2="0" y2="0"><stop offset="0" stop-color="#ff1a00"/><stop offset="0.03" stop-color="#ff1a00"/><stop offset="0.06" stop-color="#ff1a00"/><stop offset="0.1" stop-color="#ff5e00"/><stop offset="0.15" stop-color="#ffb300"/><stop offset="0.22" stop-color="#ffca00"/><stop offset="0.3" stop-color="#ffe500"/><stop offset="0.42" stop-color="#d4ff2b"/><stop offset="0.55" stop-color="#8aff75"/><stop offset="0.7" stop-color="#53ffac"/><stop offset="0.85" stop-color="#1dffe2"/><stop offset="1" stop-color="#00e5ff"/></linearGradient><linearGradient id="g10_5" x1="0" y1="1" x2="0" y2="0"><stop offset="0" stop-color="#ff4c00"/><stop offset="0.03" stop-color="#ff4c00"/><stop offset="0.06" stop-color="#ff4c00"/><stop offset="0.1" stop-color="#ff8300"/><stop offset="0.15" stop-color="#ffc700"/><stop offset="0.22" stop-color="#d8ff27"/><stop offset="0.3" stop-color="#6bff94"/><stop offset="0.42" stop-color="#30ffcf"/><stop offset="0.55" stop-color="#00f0ff"/><stop offset="0.7" stop-color="#00caff"/><stop offset="0.85" stop-color="#00a5ff"/><stop offset="1" stop-color="#0080ff"/></linearGradient><linearGradient id="g10_6" x1="0" y1="1" x2="0" y2="0"><stop offset="0" stop-color="#ff1a00"/><stop offset="0.03" stop-color="#ff1a00"/><stop offset="0.06" stop-color="#ff1a00"/><stop offset="0.1" stop-color="#ff5e00"/><stop offset="0.15" stop-color="#ffb300"/><stop offset="0.22" stop-color="#ffca00"/><stop offset="0.3" stop-color="#ffe500"/><stop offset="0.42" stop-color="#d4ff2b"/><stop offset="0.55" stop-color="#8aff75"/><stop offset="0.7" stop-color="#5affa5"/><stop offset="0.85" stop-color="#2affd5"/><stop offset="1" stop-color="#00faff"/></linearGradient><linearGradient id="g10_7" x1="0" y1="1" x2="0" y2="0"><stop offset="0" stop-color="#ff4c00"/><stop offset="0.03" stop-color="#ff4c00"/><stop offset="0.06" stop-color="#ff4c00"/><stop offset="0.1" stop-color="#ff8300"/><stop offset="0.15" stop-color="#ffc700"/><stop offset="0.22" stop-color="#d8ff27"/><stop offset="0.3" stop-color="#6bff94"/><stop offset="0.42" stop-color="#30ffcf"/><stop offset="0.55" stop-color="#00f0ff"/><stop offset="0.7" stop-color="#00caff"/><stop offset="0.85" stop-color="#00a5ff"/><stop offset="1" stop-color="#0080ff"/></linearGradient><linearGradient id="g10_8" x1="0" y1="1" x2="0" y2="0"><stop offset="0" stop-color="#ff1a00"/><stop offset="0.03" stop-color="#ff1a00"/><stop offset="0.06" stop-color="#ff1a00"/><stop offset="0.1" stop-color="#ff5e00"/><stop offset="0.15" stop-color="#ffb300"/><stop offset="0.22" stop-color="#ffbc00"/><stop offset="0.3" stop-color="#ffc700"/><stop offset="0.42" stop-color="#d5ff2a"/><stop offset="0.55" stop-color="#6bff94"/><stop offset="0.7" stop-color="#3fffc0"/><stop offset="0.85" stop-color="#13ffec"/><stop offset="1" stop-color="#00e5ff"/></linearGradient><linearGradient id="g10_9" x1="0" y1="1" x2="0" y2="0"><stop offset="0" stop-color="#1affe5"/><stop offset="0.03" stop-color="#00f0ff"/><stop offset="0.06" stop-color="#00c7ff"/><stop offset="0.1" stop-color="#00a7ff"/><stop offset="0.15" stop-color="#0080ff"/><stop offset="0.22" stop-color="#005eff"/><stop offset="0.3" stop-color="#0038ff"/><stop offset="0.42" stop-color="#0025ff"/><stop offset="0.55" stop-color="#000fff"/><stop offset="0.7" stop-color="#0002ff"/><stop offset="0.85" stop-color="#0000f3"/><stop offset="1" stop-color="#0000e6"/></linearGradient><linearGradient id="g10_10" x1="0" y1="1" x2="0" y2="0"><stop offset="0" stop-color="#ff1a00"/><stop offset="0.03" stop-color="#ff1a00"/><stop offset="0.06" stop-color="#ff1a00"/><stop offset="0.1" stop-color="#ff5e00"/><stop offset="0.15" stop-color="#ffb300"/><stop offset="0.22" stop-color="#ffc600"/><stop offset="0.3" stop-color="#ffdb00"/><stop offset="0.42" stop-color="#cbff34"/><stop offset="0.55" stop-color="#6bff94"/><stop offset="0.7" stop-color="#3fffc0"/><stop offset="0.85" stop-color="#13ffec"/><stop offset="1" stop-color="#00e5ff"/></linearGradient><linearGradient id="g10_11" x1="0" y1="1" x2="0" y2="0"><stop offset="0" stop-color="#ff4c00"/><stop offset="0.03" stop-color="#ff4c00"/><stop offset="0.06" stop-color="#ff4c00"/><stop offset="0.1" stop-color="#ff8300"/><stop offset="0.15" stop-color="#ffc700"/><stop offset="0.22" stop-color="#d8ff27"/><stop offset="0.3" stop-color="#6bff94"/><stop offset="0.42" stop-color="#30ffcf"/><stop offset="0.55" stop-color="#00f0ff"/><stop offset="0.7" stop-color="#00caff"/><stop offset="0.85" stop-color="#00a5ff"/><stop offset="1" stop-color="#0080ff"/></linearGradient><linearGradient id="g10_12" x1="0" y1="1" x2="0" y2="0"><stop offset="0" stop-color="#ff1a00"/><stop offset="0.03" stop-color="#ff1a00"/><stop offset="0.06" stop-color="#ff1a00"/><stop offset="0.1" stop-color="#ff5e00"/><stop offset="0.15" stop-color="#ffb300"/><stop offset="0.22" stop-color="#ffec00"/><stop offset="0.3" stop-color="#d1ff2e"/><stop offset="0.42" stop-color="#88ff77"/><stop offset="0.55" stop-color="#38ffc7"/><stop offset="0.7" stop-color="#16ffe9"/><stop offset="0.85" stop-color="#00f3ff"/><stop offset="1" stop-color="#00d1ff"/></linearGradient><linearGradient id="g11_0" x1="0" y1="1" x2="0" y2="0"><stop offset="0" stop-color="#ff1a00"/><stop offset="0.03" stop-color="#ff1a00"/><stop offset="0.06" stop-color="#ff1a00"/><stop offset="0.1" stop-color="#ff5e00"/><stop offset="0.15" stop-color="#ffb300"/><stop offset="0.22" stop-color="#f6ff09"/><stop offset="0.3" stop-color="#94ff6b"/><stop offset="0.42" stop-color="#59ffa6"/><stop offset="0.55" stop-color="#1affe5"/><stop offset="0.7" stop-color="#02fffd"/><stop offset="0.85" stop-color="#00e9ff"/><stop offset="1" stop-color="#00d1ff"/></linearGradient><linearGradient id="g11_1" x1="0" y1="1" x2="0" y2="0"><stop offset="0" stop-color="#1affe5"/><stop offset="0.03" stop-color="#00ffff"/><stop offset="0.06" stop-color="#00e5ff"/><stop offset="0.1" stop-color="#00cfff"/><stop offset="0.15" stop-color="#00b3ff"/><stop offset="0.22" stop-color="#009bff"/><stop offset="0.3" stop-color="#0080ff"/><stop offset="0.42" stop-color="#0067ff"/><stop offset="0.55" stop-color="#004dff"/><stop offset="0.7" stop-color="#0046ff"/><stop offset="0.85" stop-color="#003fff"/><stop offset="1" stop-color="#0038ff"/></linearGradient><linearGradient id="g11_2" x1="0" y1="1" x2="0" y2="0"><stop offset="0" stop-color="#fa0000"/><stop offset="0.03" stop-color="#fa0000"/><stop offset="0.06" stop-color="#fa0000"/><stop offset="0.1" stop-color="#ff4c00"/><stop offset="0.15" stop-color="#ffb300"/><stop offset="0.22" stop-color="#ffbc00"/><stop offset="0.3" stop-color="#ffc700"/><stop offset="0.42" stop-color="#f3ff0c"/><stop offset="0.55" stop-color="#a8ff57"/><stop offset="0.7" stop-color="#79ff86"/><stop offset="0.85" stop-color="#49ffb6"/><stop offset="1" stop-color="#1affe5"/></linearGradient><linearGradient id="g11_3" x1="0" y1="1" x2="0" y2="0"><stop offset="0" stop-color="#ff1a00"/><stop offset="0.03" stop-color="#ff1a00"/><stop offset="0.06" stop-color="#ff1a00"/><stop offset="0.1" stop-color="#ff5e00"/><stop offset="0.15" stop-color="#ffb300"/><stop offset="0.22" stop-color="#ffec00"/><stop offset="0.3" stop-color="#d1ff2e"/><stop offset="0.42" stop-color="#88ff77"/><stop offset="0.55" stop-color="#38ffc7"/><stop offset="0.7" stop-color="#16ffe9"/><stop offset="0.85" stop-color="#00f3ff"/><stop offset="1" stop-color="#00d1ff"/></linearGradient><linearGradient id="g11_4" x1="0" y1="1" x2="0" y2="0"><stop offset="0" stop-color="#fa0000"/><stop offset="0.03" stop-color="#fa0000"/><stop offset="0.06" stop-color="#fa0000"/><stop offset="0.1" stop-color="#ff4c00"/><stop offset="0.15" stop-color="#ffb300"/><stop offset="0.22" stop-color="#ffbc00"/><stop offset="0.3" stop-color="#ffc700"/><stop offset="0.42" stop-color="#eeff11"/><stop offset="0.55" stop-color="#9eff61"/><stop offset="0.7" stop-color="#72ff8d"/><stop offset="0.85" stop-color="#46ffb9"/><stop offset="1" stop-color="#1affe5"/></linearGradient><linearGradient id="g11_5" x1="0" y1="1" x2="0" y2="0"><stop offset="0" stop-color="#80ff80"/><stop offset="0.03" stop-color="#75ff8a"/><stop offset="0.06" stop-color="#6bff94"/><stop offset="0.1" stop-color="#5effa2"/><stop offset="0.15" stop-color="#4dffb3"/><stop offset="0.22" stop-color="#3effc1"/><stop offset="0.3" stop-color="#2effd1"/><stop offset="0.42" stop-color="#07fff8"/><stop offset="0.55" stop-color="#00dbff"/><stop offset="0.7" stop-color="#00ceff"/><stop offset="0.85" stop-color="#00c0ff"/><stop offset="1" stop-color="#00b3ff"/></linearGradient><linearGradient id="g11_6" x1="0" y1="1" x2="0" y2="0"><stop offset="0" stop-color="#ff1a00"/><stop offset="0.03" stop-color="#ff1a00"/><stop offset="0.06" stop-color="#ff1a00"/><stop offset="0.1" stop-color="#ff5e00"/><stop offset="0.15" stop-color="#ffb300"/><stop offset="0.22" stop-color="#ffc600"/><stop offset="0.3" stop-color="#ffdb00"/><stop offset="0.42" stop-color="#cbff34"/><stop offset="0.55" stop-color="#6bff94"/><stop offset="0.7" stop-color="#46ffb9"/><stop offset="0.85" stop-color="#20ffdf"/><stop offset="1" stop-color="#00faff"/></linearGradient><linearGradient id="g12_0" x1="0" y1="1" x2="0" y2="0"><stop offset="0" stop-color="#ff1a00"/><stop offset="0.03" stop-color="#ff1a00"/><stop offset="0.06" stop-color="#ff1a00"/><stop offset="0.1" stop-color="#ff5e00"/><stop offset="0.15" stop-color="#ffb300"/><stop offset="0.22" stop-color="#f6ff09"/><stop offset="0.3" stop-color="#94ff6b"/><stop offset="0.42" stop-color="#59ffa6"/><stop offset="0.55" stop-color="#1affe5"/><stop offset="0.7" stop-color="#00faff"/><stop offset="0.85" stop-color="#00dbff"/><stop offset="1" stop-color="#00bdff"/></linearGradient><linearGradient id="g12_1" x1="0" y1="1" x2="0" y2="0"><stop offset="0" stop-color="#1affe5"/><stop offset="0.03" stop-color="#00ffff"/><stop offset="0.06" stop-color="#00e5ff"/><stop offset="0.1" stop-color="#00c6ff"/><stop offset="0.15" stop-color="#009eff"/><stop offset="0.22" stop-color="#0090ff"/><stop offset="0.3" stop-color="#0080ff"/><stop offset="0.42" stop-color="#0071ff"/><stop offset="0.55" stop-color="#0061ff"/><stop offset="0.7" stop-color="#0053ff"/><stop offset="0.85" stop-color="#0046ff"/><stop offset="1" stop-color="#0038ff"/></linearGradient><linearGradient id="g12_2" x1="0" y1="1" x2="0" y2="0"><stop offset="0" stop-color="#ff1a00"/><stop offset="0.03" stop-color="#ff1a00"/><stop offset="0.06" stop-color="#ff1a00"/><stop offset="0.1" stop-color="#ff5e00"/><stop offset="0.15" stop-color="#ffb300"/><stop offset="0.22" stop-color="#f6ff09"/><stop offset="0.3" stop-color="#94ff6b"/><stop offset="0.42" stop-color="#63ff9c"/><stop offset="0.55" stop-color="#2effd1"/><stop offset="0.7" stop-color="#1dffe2"/><stop offset="0.85" stop-color="#0cfff3"/><stop offset="1" stop-color="#00faff"/></linearGradient><linearGradient id="g12_3" x1="0" y1="1" x2="0" y2="0"><stop offset="0" stop-color="#ff4c00"/><stop offset="0.03" stop-color="#ff4c00"/><stop offset="0.06" stop-color="#ff4c00"/><stop offset="0.1" stop-color="#ff8300"/><stop offset="0.15" stop-color="#ffc700"/><stop offset="0.22" stop-color="#d8ff27"/><stop offset="0.3" stop-color="#6bff94"/><stop offset="0.42" stop-color="#30ffcf"/><stop offset="0.55" stop-color="#00f0ff"/><stop offset="0.7" stop-color="#00caff"/><stop offset="0.85" stop-color="#00a5ff"/><stop offset="1" stop-color="#0080ff"/></linearGradient><linearGradient id="g12_4" x1="0" y1="1" x2="0" y2="0"><stop offset="0" stop-color="#ff1a00"/><stop offset="0.03" stop-color="#ff1a00"/><stop offset="0.06" stop-color="#ff1a00"/><stop offset="0.1" stop-color="#ff5e00"/><stop offset="0.15" stop-color="#ffb300"/><stop offset="0.22" stop-color="#ffd900"/><stop offset="0.3" stop-color="#faff05"/><stop offset="0.42" stop-color="#b5ff4a"/><stop offset="0.55" stop-color="#6bff94"/><stop offset="0.7" stop-color="#38ffc7"/><stop offset="0.85" stop-color="#05fffa"/><stop offset="1" stop-color="#00d1ff"/></linearGradient><linearGradient id="g12_5" x1="0" y1="1" x2="0" y2="0"><stop offset="0" stop-color="#ff4c00"/><stop offset="0.03" stop-color="#ff4c00"/><stop offset="0.06" stop-color="#ff4c00"/><stop offset="0.1" stop-color="#ff8300"/><stop offset="0.15" stop-color="#ffc700"/><stop offset="0.22" stop-color="#d8ff27"/><stop offset="0.3" stop-color="#6bff94"/><stop offset="0.42" stop-color="#30ffcf"/><stop offset="0.55" stop-color="#00f0ff"/><stop offset="0.7" stop-color="#00caff"/><stop offset="0.85" stop-color="#00a5ff"/><stop offset="1" stop-color="#0080ff"/></linearGradient><linearGradient id="g12_6" x1="0" y1="1" x2="0" y2="0"><stop offset="0" stop-color="#ff1a00"/><stop offset="0.03" stop-color="#ff1a00"/><stop offset="0.06" stop-color="#ff1a00"/><stop offset="0.1" stop-color="#ff5e00"/><stop offset="0.15" stop-color="#ffb300"/><stop offset="0.22" stop-color="#ffd900"/><stop offset="0.3" stop-color="#faff05"/><stop offset="0.42" stop-color="#b5ff4a"/><stop offset="0.55" stop-color="#6bff94"/><stop offset="0.7" stop-color="#3fffc0"/><stop offset="0.85" stop-color="#13ffec"/><stop offset="1" stop-color="#00e5ff"/></linearGradient><linearGradient id="g12_7" x1="0" y1="1" x2="0" y2="0"><stop offset="0" stop-color="#ff4c00"/><stop offset="0.03" stop-color="#ff4c00"/><stop offset="0.06" stop-color="#ff4c00"/><stop offset="0.1" stop-color="#ff8300"/><stop offset="0.15" stop-color="#ffc700"/><stop offset="0.22" stop-color="#d8ff27"/><stop offset="0.3" stop-color="#6bff94"/><stop offset="0.42" stop-color="#30ffcf"/><stop offset="0.55" stop-color="#00f0ff"/><stop offset="0.7" stop-color="#00caff"/><stop offset="0.85" stop-color="#00a5ff"/><stop offset="1" stop-color="#0080ff"/></linearGradient><linearGradient id="g12_8" x1="0" y1="1" x2="0" y2="0"><stop offset="0" stop-color="#ff1a00"/><stop offset="0.03" stop-color="#ff1a00"/><stop offset="0.06" stop-color="#ff1a00"/><stop offset="0.1" stop-color="#ff5e00"/><stop offset="0.15" stop-color="#ffb300"/><stop offset="0.22" stop-color="#ffcf00"/><stop offset="0.3" stop-color="#fff000"/><stop offset="0.42" stop-color="#b6ff49"/><stop offset="0.55" stop-color="#57ffa8"/><stop offset="0.7" stop-color="#2bffd4"/><stop offset="0.85" stop-color="#00fdff"/><stop offset="1" stop-color="#00d1ff"/></linearGradient><linearGradient id="g12_9" x1="0" y1="1" x2="0" y2="0"><stop offset="0" stop-color="#05fffa"/><stop offset="0.03" stop-color="#00d1ff"/><stop offset="0.06" stop-color="#009eff"/><stop offset="0.1" stop-color="#007aff"/><stop offset="0.15" stop-color="#004dff"/><stop offset="0.22" stop-color="#0030ff"/><stop offset="0.3" stop-color="#000fff"/><stop offset="0.42" stop-color="#0000fb"/><stop offset="0.55" stop-color="#0000e6"/><stop offset="0.7" stop-color="#0000db"/><stop offset="0.85" stop-color="#0000d1"/><stop offset="1" stop-color="#0000c7"/></linearGradient><linearGradient id="g12_10" x1="0" y1="1" x2="0" y2="0"><stop offset="0" stop-color="#ff1a00"/><stop offset="0.03" stop-color="#ff1a00"/><stop offset="0.06" stop-color="#ff1a00"/><stop offset="0.1" stop-color="#ff5e00"/><stop offset="0.15" stop-color="#ffb300"/><stop offset="0.22" stop-color="#ffd900"/><stop offset="0.3" stop-color="#faff05"/><stop offset="0.42" stop-color="#acff53"/><stop offset="0.55" stop-color="#57ffa8"/><stop offset="0.7" stop-color="#2bffd4"/><stop offset="0.85" stop-color="#00fdff"/><stop offset="1" stop-color="#00d1ff"/></linearGradient><linearGradient id="g12_11" x1="0" y1="1" x2="0" y2="0"><stop offset="0" stop-color="#ff4c00"/><stop offset="0.03" stop-color="#ff4c00"/><stop offset="0.06" stop-color="#ff4c00"/><stop offset="0.1" stop-color="#ff8300"/><stop offset="0.15" stop-color="#ffc700"/><stop offset="0.22" stop-color="#d8ff27"/><stop offset="0.3" stop-color="#6bff94"/><stop offset="0.42" stop-color="#30ffcf"/><stop offset="0.55" stop-color="#00f0ff"/><stop offset="0.7" stop-color="#00caff"/><stop offset="0.85" stop-color="#00a5ff"/><stop offset="1" stop-color="#0080ff"/></linearGradient><linearGradient id="g12_12" x1="0" y1="1" x2="0" y2="0"><stop offset="0" stop-color="#ff1a00"/><stop offset="0.03" stop-color="#ff1a00"/><stop offset="0.06" stop-color="#ff1a00"/><stop offset="0.1" stop-color="#ff5e00"/><stop offset="0.15" stop-color="#ffb300"/><stop offset="0.22" stop-color="#ffec00"/><stop offset="0.3" stop-color="#d1ff2e"/><stop offset="0.42" stop-color="#88ff77"/><stop offset="0.55" stop-color="#38ffc7"/><stop offset="0.7" stop-color="#16ffe9"/><stop offset="0.85" stop-color="#00f3ff"/><stop offset="1" stop-color="#00d1ff"/></linearGradient><filter id="nz0" x="0" y="0" width="1" height="1" filterUnits="objectBoundingBox" color-interpolation-filters="sRGB"><feTurbulence type="fractalNoise" baseFrequency="0.6 0.5" numOctaves="2" seed="3" result="n"/><feDisplacementMap in="SourceGraphic" in2="n" scale="3" xChannelSelector="R" yChannelSelector="G" result="d"/><feTurbulence type="fractalNoise" baseFrequency="0.7" numOctaves="1" seed="11" result="n2"/><feColorMatrix in="n2" type="matrix" values="0 0 0 0 0.5  0 0 0 0 0.5  0 0 0 0 0.5  1 0 0 0 0" result="g"/><feComposite in="d" in2="n2" operator="arithmetic" k1="0" k2="1" k3="0.7" k4="-0.35"/></filter><filter id="nz1" x="0" y="0" width="1" height="1" filterUnits="objectBoundingBox" color-interpolation-filters="sRGB"><feTurbulence type="fractalNoise" baseFrequency="0.6 0.5" numOctaves="2" seed="10" result="n"/><feDisplacementMap in="SourceGraphic" in2="n" scale="3" xChannelSelector="R" yChannelSelector="G" result="d"/><feTurbulence type="fractalNoise" baseFrequency="0.7" numOctaves="1" seed="16" result="n2"/><feColorMatrix in="n2" type="matrix" values="0 0 0 0 0.5  0 0 0 0 0.5  0 0 0 0 0.5  1 0 0 0 0" result="g"/><feComposite in="d" in2="n2" operator="arithmetic" k1="0" k2="1" k3="0.7" k4="-0.35"/></filter><filter id="nz2" x="0" y="0" width="1" height="1" filterUnits="objectBoundingBox" color-interpolation-filters="sRGB"><feTurbulence type="fractalNoise" baseFrequency="0.6 0.5" numOctaves="2" seed="17" result="n"/><feDisplacementMap in="SourceGraphic" in2="n" scale="3" xChannelSelector="R" yChannelSelector="G" result="d"/><feTurbulence type="fractalNoise" baseFrequency="0.7" numOctaves="1" seed="21" result="n2"/><feColorMatrix in="n2" type="matrix" values="0 0 0 0 0.5  0 0 0 0 0.5  0 0 0 0 0.5  1 0 0 0 0" result="g"/><feComposite in="d" in2="n2" operator="arithmetic" k1="0" k2="1" k3="0.7" k4="-0.35"/></filter><filter id="nz3" x="0" y="0" width="1" height="1" filterUnits="objectBoundingBox" color-interpolation-filters="sRGB"><feTurbulence type="fractalNoise" baseFrequency="0.6 0.5" numOctaves="2" seed="24" result="n"/><feDisplacementMap in="SourceGraphic" in2="n" scale="3" xChannelSelector="R" yChannelSelector="G" result="d"/><feTurbulence type="fractalNoise" baseFrequency="0.7" numOctaves="1" seed="26" result="n2"/><feColorMatrix in="n2" type="matrix" values="0 0 0 0 0.5  0 0 0 0 0.5  0 0 0 0 0.5  1 0 0 0 0" result="g"/><feComposite in="d" in2="n2" operator="arithmetic" k1="0" k2="1" k3="0.7" k4="-0.35"/></filter></defs></svg>
<svg class="sp" style="left:103.00px;top:138.80px" width="86.20" height="49.60" viewBox="0 0 86.20 49.60"><g filter="url(#nz1)"><rect x="-4.00" y="-4" width="7.19" height="57.60" fill="url(#g1_0)"/><rect x="2.59" y="-4" width="13.53" height="57.60" fill="url(#g1_1)"/><rect x="15.52" y="-4" width="5.77" height="57.60" fill="url(#g1_2)"/><rect x="20.69" y="-4" width="7.50" height="57.60" fill="url(#g1_3)"/><rect x="27.58" y="-4" width="8.36" height="57.60" fill="url(#g1_4)"/><rect x="35.34" y="-4" width="7.50" height="57.60" fill="url(#g1_5)"/><rect x="42.24" y="-4" width="4.91" height="57.60" fill="url(#g1_6)"/><rect x="46.55" y="-4" width="8.36" height="57.60" fill="url(#g1_7)"/><rect x="54.31" y="-4" width="9.22" height="57.60" fill="url(#g1_8)"/><rect x="62.93" y="-4" width="6.63" height="57.60" fill="url(#g1_9)"/><rect x="68.96" y="-4" width="6.63" height="57.60" fill="url(#g1_10)"/><rect x="74.99" y="-4" width="6.63" height="57.60" fill="url(#g1_11)"/><rect x="81.03" y="-4" width="9.17" height="57.60" fill="url(#g1_12)"/></g></svg>
<div class="tk" style="left:99.0px;top:189.6px">0</div>
<div class="tk" style="left:120.5px;top:189.6px">0.5</div>
<div class="tk" style="left:142.1px;top:189.6px">1</div>
<div class="tk" style="left:163.7px;top:189.6px">1.5</div>
<div class="tk" style="left:185.2px;top:189.6px">2</div>
<div class="tl" style="left:131.1px;top:193.6px">Time (sec)</div>
<div class="tk yk" style="left:89.0px;top:186.4px">0</div>
<div class="tk yk" style="left:89.0px;top:174.0px">2000</div>
<div class="tk yk" style="left:89.0px;top:161.6px">4000</div>
<div class="tk yk" style="left:89.0px;top:149.2px">6000</div>
<div class="tk yk" style="left:89.0px;top:136.8px">8000</div>
<div class="fl" style="left:70.0px;top:160.6px">Frequency (Hz)</div>
<svg class="sp" style="left:209.00px;top:138.80px" width="86.20" height="49.60" viewBox="0 0 86.20 49.60"><g filter="url(#nz2)"><rect x="-4.00" y="-4" width="21.84" height="57.60" fill="url(#g2_0)"/><rect x="17.24" y="-4" width="4.05" height="57.60" fill="url(#g2_1)"/><rect x="20.69" y="-4" width="18.70" height="57.60" fill="url(#g2_2)"/><rect x="38.79" y="-4" width="4.91" height="57.60" fill="url(#g2_3)"/><rect x="43.10" y="-4" width="5.77" height="57.60" fill="url(#g2_4)"/><rect x="48.27" y="-4" width="5.77" height="57.60" fill="url(#g2_5)"/><rect x="53.44" y="-4" width="11.81" height="57.60" fill="url(#g2_6)"/><rect x="64.65" y="-4" width="13.53" height="57.60" fill="url(#g2_7)"/><rect x="77.58" y="-4" width="12.62" height="57.60" fill="url(#g2_8)"/></g></svg>
<div class="tk" style="left:205.0px;top:189.6px">0</div>
<div class="tk" style="left:226.6px;top:189.6px">0.5</div>
<div class="tk" style="left:248.1px;top:189.6px">1</div>
<div class="tk" style="left:269.6px;top:189.6px">1.5</div>
<div class="tk" style="left:291.2px;top:189.6px">2</div>
<div class="tl" style="left:237.1px;top:193.6px">Time (sec)</div>
<div class="tk yk" style="left:195.0px;top:186.4px">0</div>
<div class="tk yk" style="left:195.0px;top:174.0px">2000</div>
<div class="tk yk" style="left:195.0px;top:161.6px">4000</div>
<div class="tk yk" style="left:195.0px;top:149.2px">6000</div>
<div class="tk yk" style="left:195.0px;top:136.8px">8000</div>
<div class="fl" style="left:176.0px;top:160.6px">Frequency (Hz)</div>
<svg class="sp" style="left:314.50px;top:138.80px" width="86.20" height="49.60" viewBox="0 0 86.20 49.60"><g filter="url(#nz3)"><rect x="-4.00" y="-4" width="21.84" height="57.60" fill="url(#g3_0)"/><rect x="17.24" y="-4" width="5.77" height="57.60" fill="url(#g3_1)"/><rect x="22.41" y="-4" width="7.50" height="57.60" fill="url(#g3_2)"/><rect x="29.31" y="-4" width="5.77" height="57.60" fill="url(#g3_3)"/><rect x="34.48" y="-4" width="9.22" height="57.60" fill="url(#g3_4)"/><rect x="43.10" y="-4" width="9.22" height="57.60" fill="url(#g3_5)"/><rect x="51.72" y="-4" width="17.84" height="57.60" fill="url(#g3_6)"/><rect x="68.96" y="-4" width="6.63" height="57.60" fill="url(#g3_7)"/><rect x="74.99" y="-4" width="15.21" height="57.60" fill="url(#g3_8)"/></g></svg>
<div class="tk" style="left:310.5px;top:189.6px">0</div>
<div class="tk" style="left:332.1px;top:189.6px">0.5</div>
<div class="tk" style="left:353.6px;top:189.6px">1</div>
<div class="tk" style="left:375.1px;top:189.6px">1.5</div>
<div class="tk" style="left:396.7px;top:189.6px">2</div>
<div class="tl" style="left:342.6px;top:193.6px">Time (sec)</div>
<div class="tk yk" style="left:300.5px;top:186.4px">0</div>
<div class="tk yk" style="left:300.5px;top:174.0px">2000</div>
<div class="tk yk" style="left:300.5px;top:161.6px">4000</div>
<div class="tk yk" style="left:300.5px;top:149.2px">6000</div>
<div class="tk yk" style="left:300.5px;top:136.8px">8000</div>
<div class="fl" style="left:281.5px;top:160.6px">Frequency (Hz)</div>
<svg class="sp" style="left:444.00px;top:138.80px" width="86.20" height="49.60" viewBox="0 0 86.20 49.60"><g filter="url(#nz0)"><rect x="-4.00" y="-4" width="10.63" height="57.60" fill="url(#g4_0)"/><rect x="6.03" y="-4" width="5.77" height="57.60" fill="url(#g4_1)"/><rect x="11.21" y="-4" width="6.63" height="57.60" fill="url(#g4_2)"/><rect x="17.24" y="-4" width="11.81" height="57.60" fill="url(#g4_3)"/><rect x="28.45" y="-4" width="15.25" height="57.60" fill="url(#g4_4)"/><rect x="43.10" y="-4" width="3.19" height="57.60" fill="url(#g4_5)"/><rect x="45.69" y="-4" width="24.74" height="57.60" fill="url(#g4_6)"/><rect x="69.82" y="-4" width="8.36" height="57.60" fill="url(#g4_7)"/><rect x="77.58" y="-4" width="4.91" height="57.60" fill="url(#g4_8)"/><rect x="81.89" y="-4" width="8.31" height="57.60" fill="url(#g4_9)"/></g></svg>
<div class="tk" style="left:440.0px;top:189.6px">0</div>
<div class="tk" style="left:461.6px;top:189.6px">0.5</div>
<div class="tk" style="left:483.1px;top:189.6px">1</div>
<div class="tk" style="left:504.6px;top:189.6px">1.5</div>
<div class="tk" style="left:526.2px;top:189.6px">2</div>
<div class="tl" style="left:472.1px;top:193.6px">Time (sec)</div>
<div class="tk yk" style="left:430.0px;top:186.4px">0</div>
<div class="tk yk" style="left:430.0px;top:174.0px">2000</div>
<div class="tk yk" style="left:430.0px;top:161.6px">4000</div>
<div class="tk yk" style="left:430.0px;top:149.2px">6000</div>
<div class="tk yk" style="left:430.0px;top:136.8px">8000</div>
<div class="fl" style="left:411.0px;top:160.6px">Frequency (Hz)</div>
<svg class="sp" style="left:550.20px;top:138.80px" width="86.20" height="49.60" viewBox="0 0 86.20 49.60"><g filter="url(#nz1)"><rect x="-4.00" y="-4" width="8.91" height="57.60" fill="url(#g5_0)"/><rect x="4.31" y="-4" width="4.91" height="57.60" fill="url(#g5_1)"/><rect x="8.62" y="-4" width="3.19" height="57.60" fill="url(#g5_2)"/><rect x="11.21" y="-4" width="32.49" height="57.60" fill="url(#g5_3)"/><rect x="43.10" y="-4" width="6.63" height="57.60" fill="url(#g5_4)"/><rect x="49.13" y="-4" width="13.53" height="57.60" fill="url(#g5_5)"/><rect x="62.06" y="-4" width="7.50" height="57.60" fill="url(#g5_6)"/><rect x="68.96" y="-4" width="13.53" height="57.60" fill="url(#g5_7)"/><rect x="81.89" y="-4" width="8.31" height="57.60" fill="url(#g5_8)"/></g></svg>
<div class="tk" style="left:546.2px;top:189.6px">0</div>
<div class="tk" style="left:567.8px;top:189.6px">0.5</div>
<div class="tk" style="left:589.3px;top:189.6px">1</div>
<div class="tk" style="left:610.9px;top:189.6px">1.5</div>
<div class="tk" style="left:632.4px;top:189.6px">2</div>
<div class="tl" style="left:578.3px;top:193.6px">Time (sec)</div>
<div class="tk yk" style="left:536.2px;top:186.4px">0</div>
<div class="tk yk" style="left:536.2px;top:174.0px">2000</div>
<div class="tk yk" style="left:536.2px;top:161.6px">4000</div>
<div class="tk yk" style="left:536.2px;top:149.2px">6000</div>
<div class="tk yk" style="left:536.2px;top:136.8px">8000</div>
<div class="fl" style="left:517.2px;top:160.6px">Frequency (Hz)</div>
<svg class="sp" style="left:656.20px;top:138.80px" width="86.20" height="49.60" viewBox="0 0 86.20 49.60"><g filter="url(#nz2)"><rect x="-4.00" y="-4" width="10.63" height="57.60" fill="url(#g6_0)"/><rect x="6.03" y="-4" width="4.91" height="57.60" fill="url(#g6_1)"/><rect x="10.34" y="-4" width="7.50" height="57.60" fill="url(#g6_2)"/><rect x="17.24" y="-4" width="11.81" height="57.60" fill="url(#g6_3)"/><rect x="28.45" y="-4" width="16.98" height="57.60" fill="url(#g6_4)"/><rect x="44.82" y="-4" width="26.46" height="57.60" fill="url(#g6_5)"/><rect x="70.68" y="-4" width="7.50" height="57.60" fill="url(#g6_6)"/><rect x="77.58" y="-4" width="4.91" height="57.60" fill="url(#g6_7)"/><rect x="81.89" y="-4" width="8.31" height="57.60" fill="url(#g6_8)"/></g></svg>
<div class="tk" style="left:652.2px;top:189.6px">0</div>
<div class="tk" style="left:673.8px;top:189.6px">0.5</div>
<div class="tk" style="left:695.3px;top:189.6px">1</div>
<div class="tk" style="left:716.9px;top:189.6px">1.5</div>
<div class="tk" style="left:738.4px;top:189.6px">2</div>
<div class="tl" style="left:684.3px;top:193.6px">Time (sec)</div>
<div class="tk yk" style="left:642.2px;top:186.4px">0</div>
<div class="tk yk" style="left:642.2px;top:174.0px">2000</div>
<div class="tk yk" style="left:642.2px;top:161.6px">4000</div>
<div class="tk yk" style="left:642.2px;top:149.2px">6000</div>
<div class="tk yk" style="left:642.2px;top:136.8px">8000</div>
<div class="fl" style="left:623.2px;top:160.6px">Frequency (Hz)</div>
<svg class="sp" style="left:103.00px;top:225.30px" width="86.20" height="50.10" viewBox="0 0 86.20 50.10"><g filter="url(#nz3)"><rect x="-4.00" y="-4" width="8.05" height="58.10" fill="url(#g7_0)"/><rect x="3.45" y="-4" width="7.50" height="58.10" fill="url(#g7_1)"/><rect x="10.34" y="-4" width="3.19" height="58.10" fill="url(#g7_2)"/><rect x="12.93" y="-4" width="10.94" height="58.10" fill="url(#g7_3)"/><rect x="23.27" y="-4" width="4.91" height="58.10" fill="url(#g7_4)"/><rect x="27.58" y="-4" width="9.22" height="58.10" fill="url(#g7_5)"/><rect x="36.20" y="-4" width="2.32" height="58.10" fill="url(#g7_6)"/><rect x="37.93" y="-4" width="3.19" height="58.10" fill="url(#g7_7)"/><rect x="40.51" y="-4" width="5.77" height="58.10" fill="url(#g7_8)"/><rect x="45.69" y="-4" width="4.91" height="58.10" fill="url(#g7_9)"/><rect x="50.00" y="-4" width="4.05" height="58.10" fill="url(#g7_10)"/><rect x="53.44" y="-4" width="3.19" height="58.10" fill="url(#g7_11)"/><rect x="56.03" y="-4" width="3.19" height="58.10" fill="url(#g7_12)"/><rect x="58.62" y="-4" width="2.32" height="58.10" fill="url(#g7_13)"/><rect x="60.34" y="-4" width="3.19" height="58.10" fill="url(#g7_14)"/><rect x="62.93" y="-4" width="8.36" height="58.10" fill="url(#g7_15)"/><rect x="70.68" y="-4" width="4.05" height="58.10" fill="url(#g7_16)"/><rect x="74.13" y="-4" width="10.08" height="58.10" fill="url(#g7_17)"/><rect x="83.61" y="-4" width="6.59" height="58.10" fill="url(#g7_18)"/></g></svg>
<div class="tk" style="left:99.0px;top:276.6px">0</div>
<div class="tk" style="left:120.5px;top:276.6px">0.5</div>
<div class="tk" style="left:142.1px;top:276.6px">1</div>
<div class="tk" style="left:163.7px;top:276.6px">1.5</div>
<div class="tk" style="left:185.2px;top:276.6px">2</div>
<div class="tl" style="left:131.1px;top:280.6px">Time (sec)</div>
<div class="tk yk" style="left:89.0px;top:273.4px">0</div>
<div class="tk yk" style="left:89.0px;top:260.9px">2000</div>
<div class="tk yk" style="left:89.0px;top:248.4px">4000</div>
<div class="tk yk" style="left:89.0px;top:235.8px">6000</div>
<div class="tk yk" style="left:89.0px;top:223.3px">8000</div>
<div class="fl" style="left:70.0px;top:247.4px">Frequency (Hz)</div>
<svg class="sp" style="left:209.00px;top:225.30px" width="86.20" height="50.10" viewBox="0 0 86.20 50.10"><g filter="url(#nz0)"><rect x="-4.00" y="-4" width="8.91" height="58.10" fill="url(#g8_0)"/><rect x="4.31" y="-4" width="6.63" height="58.10" fill="url(#g8_1)"/><rect x="10.34" y="-4" width="13.53" height="58.10" fill="url(#g8_2)"/><rect x="23.27" y="-4" width="4.91" height="58.10" fill="url(#g8_3)"/><rect x="27.58" y="-4" width="17.84" height="58.10" fill="url(#g8_4)"/><rect x="44.82" y="-4" width="5.77" height="58.10" fill="url(#g8_5)"/><rect x="50.00" y="-4" width="19.56" height="58.10" fill="url(#g8_6)"/><rect x="68.96" y="-4" width="9.22" height="58.10" fill="url(#g8_7)"/><rect x="77.58" y="-4" width="12.62" height="58.10" fill="url(#g8_8)"/></g></svg>
<div class="tk" style="left:205.0px;top:276.6px">0</div>
<div class="tk" style="left:226.6px;top:276.6px">0.5</div>
<div class="tk" style="left:248.1px;top:276.6px">1</div>
<div class="tk" style="left:269.6px;top:276.6px">1.5</div>
<div class="tk" style="left:291.2px;top:276.6px">2</div>
<div class="tl" style="left:237.1px;top:280.6px">Time (sec)</div>
<div class="tk yk" style="left:195.0px;top:273.4px">0</div>
<div class="tk yk" style="left:195.0px;top:260.9px">2000</div>
<div class="tk yk" style="left:195.0px;top:248.4px">4000</div>
<div class="tk yk" style="left:195.0px;top:235.8px">6000</div>
<div class="tk yk" style="left:195.0px;top:223.3px">8000</div>
<div class="fl" style="left:176.0px;top:247.4px">Frequency (Hz)</div>
<svg class="sp" style="left:314.50px;top:225.30px" width="86.20" height="50.10" viewBox="0 0 86.20 50.10"><g filter="url(#nz1)"><rect x="-4.00" y="-4" width="8.05" height="58.10" fill="url(#g9_0)"/><rect x="3.45" y="-4" width="7.50" height="58.10" fill="url(#g9_1)"/><rect x="10.34" y="-4" width="4.05" height="58.10" fill="url(#g9_2)"/><rect x="13.79" y="-4" width="10.08" height="58.10" fill="url(#g9_3)"/><rect x="23.27" y="-4" width="4.91" height="58.10" fill="url(#g9_4)"/><rect x="27.58" y="-4" width="10.08" height="58.10" fill="url(#g9_5)"/><rect x="37.07" y="-4" width="4.91" height="58.10" fill="url(#g9_6)"/><rect x="41.38" y="-4" width="12.67" height="58.10" fill="url(#g9_7)"/><rect x="53.44" y="-4" width="7.50" height="58.10" fill="url(#g9_8)"/><rect x="60.34" y="-4" width="4.05" height="58.10" fill="url(#g9_9)"/><rect x="63.79" y="-4" width="8.36" height="58.10" fill="url(#g9_10)"/><rect x="71.55" y="-4" width="4.05" height="58.10" fill="url(#g9_11)"/><rect x="74.99" y="-4" width="9.22" height="58.10" fill="url(#g9_12)"/><rect x="83.61" y="-4" width="6.59" height="58.10" fill="url(#g9_13)"/></g></svg>
<div class="tk" style="left:310.5px;top:276.6px">0</div>
<div class="tk" style="left:332.1px;top:276.6px">0.5</div>
<div class="tk" style="left:353.6px;top:276.6px">1</div>
<div class="tk" style="left:375.1px;top:276.6px">1.5</div>
<div class="tk" style="left:396.7px;top:276.6px">2</div>
<div class="tl" style="left:342.6px;top:280.6px">Time (sec)</div>
<div class="tk yk" style="left:300.5px;top:273.4px">0</div>
<div class="tk yk" style="left:300.5px;top:260.9px">2000</div>
<div class="tk yk" style="left:300.5px;top:248.4px">4000</div>
<div class="tk yk" style="left:300.5px;top:235.8px">6000</div>
<div class="tk yk" style="left:300.5px;top:223.3px">8000</div>
<div class="fl" style="left:281.5px;top:247.4px">Frequency (Hz)</div>
<svg class="sp" style="left:444.00px;top:225.30px" width="86.20" height="50.10" viewBox="0 0 86.20 50.10"><g filter="url(#nz2)"><rect x="-4.00" y="-4" width="11.50" height="58.10" fill="url(#g10_0)"/><rect x="6.90" y="-4" width="3.19" height="58.10" fill="url(#g10_1)"/><rect x="9.48" y="-4" width="4.05" height="58.10" fill="url(#g10_2)"/><rect x="12.93" y="-4" width="2.32" height="58.10" fill="url(#g10_3)"/><rect x="14.65" y="-4" width="14.39" height="58.10" fill="url(#g10_4)"/><rect x="28.45" y="-4" width="2.32" height="58.10" fill="url(#g10_5)"/><rect x="30.17" y="-4" width="17.84" height="58.10" fill="url(#g10_6)"/><rect x="47.41" y="-4" width="2.32" height="58.10" fill="url(#g10_7)"/><rect x="49.13" y="-4" width="9.22" height="58.10" fill="url(#g10_8)"/><rect x="57.75" y="-4" width="4.91" height="58.10" fill="url(#g10_9)"/><rect x="62.06" y="-4" width="11.81" height="58.10" fill="url(#g10_10)"/><rect x="73.27" y="-4" width="3.19" height="58.10" fill="url(#g10_11)"/><rect x="75.86" y="-4" width="14.34" height="58.10" fill="url(#g10_12)"/></g></svg>
<div class="tk" style="left:440.0px;top:276.6px">0</div>
<div class="tk" style="left:461.6px;top:276.6px">0.5</div>
<div class="tk" style="left:483.1px;top:276.6px">1</div>
<div class="tk" style="left:504.6px;top:276.6px">1.5</div>
<div class="tk" style="left:526.2px;top:276.6px">2</div>
<div class="tl" style="left:472.1px;top:280.6px">Time (sec)</div>
<div class="tk yk" style="left:430.0px;top:273.4px">0</div>
<div class="tk yk" style="left:430.0px;top:260.9px">2000</div>
<div class="tk yk" style="left:430.0px;top:248.4px">4000</div>
<div class="tk yk" style="left:430.0px;top:235.8px">6000</div>
<div class="tk yk" style="left:430.0px;top:223.3px">8000</div>
<div class="fl" style="left:411.0px;top:247.4px">Frequency (Hz)</div>
<svg class="sp" style="left:550.20px;top:225.30px" width="86.20" height="50.10" viewBox="0 0 86.20 50.10"><g filter="url(#nz3)"><rect x="-4.00" y="-4" width="11.50" height="58.10" fill="url(#g11_0)"/><rect x="6.90" y="-4" width="3.19" height="58.10" fill="url(#g11_1)"/><rect x="9.48" y="-4" width="34.22" height="58.10" fill="url(#g11_2)"/><rect x="43.10" y="-4" width="9.22" height="58.10" fill="url(#g11_3)"/><rect x="51.72" y="-4" width="6.63" height="58.10" fill="url(#g11_4)"/><rect x="57.75" y="-4" width="4.91" height="58.10" fill="url(#g11_5)"/><rect x="62.06" y="-4" width="28.14" height="58.10" fill="url(#g11_6)"/></g></svg>
<div class="tk" style="left:546.2px;top:276.6px">0</div>
<div class="tk" style="left:567.8px;top:276.6px">0.5</div>
<div class="tk" style="left:589.3px;top:276.6px">1</div>
<div class="tk" style="left:610.9px;top:276.6px">1.5</div>
<div class="tk" style="left:632.4px;top:276.6px">2</div>
<div class="tl" style="left:578.3px;top:280.6px">Time (sec)</div>
<div class="tk yk" style="left:536.2px;top:273.4px">0</div>
<div class="tk yk" style="left:536.2px;top:260.9px">2000</div>
<div class="tk yk" style="left:536.2px;top:248.4px">4000</div>
<div class="tk yk" style="left:536.2px;top:235.8px">6000</div>
<div class="tk yk" style="left:536.2px;top:223.3px">8000</div>
<div class="fl" style="left:517.2px;top:247.4px">Frequency (Hz)</div>
<svg class="sp" style="left:656.20px;top:225.30px" width="86.20" height="50.10" viewBox="0 0 86.20 50.10"><g filter="url(#nz0)"><rect x="-4.00" y="-4" width="11.50" height="58.10" fill="url(#g12_0)"/><rect x="6.90" y="-4" width="3.19" height="58.10" fill="url(#g12_1)"/><rect x="9.48" y="-4" width="4.05" height="58.10" fill="url(#g12_2)"/><rect x="12.93" y="-4" width="2.32" height="58.10" fill="url(#g12_3)"/><rect x="14.65" y="-4" width="14.39" height="58.10" fill="url(#g12_4)"/><rect x="28.45" y="-4" width="2.32" height="58.10" fill="url(#g12_5)"/><rect x="30.17" y="-4" width="17.84" height="58.10" fill="url(#g12_6)"/><rect x="47.41" y="-4" width="2.32" height="58.10" fill="url(#g12_7)"/><rect x="49.13" y="-4" width="7.93" height="58.10" fill="url(#g12_8)"/><rect x="56.46" y="-4" width="6.20" height="58.10" fill="url(#g12_9)"/><rect x="62.06" y="-4" width="11.81" height="58.10" fill="url(#g12_10)"/><rect x="73.27" y="-4" width="3.19" height="58.10" fill="url(#g12_11)"/><rect x="75.86" y="-4" width="14.34" height="58.10" fill="url(#g12_12)"/></g></svg>
<div class="tk" style="left:652.2px;top:276.6px">0</div>
<div class="tk" style="left:673.8px;top:276.6px">0.5</div>
<div class="tk" style="left:695.3px;top:276.6px">1</div>
<div class="tk" style="left:716.9px;top:276.6px">1.5</div>
<div class="tk" style="left:738.4px;top:276.6px">2</div>
<div class="tl" style="left:684.3px;top:280.6px">Time (sec)</div>
<div class="tk yk" style="left:642.2px;top:273.4px">0</div>
<div class="tk yk" style="left:642.2px;top:260.9px">2000</div>
<div class="tk yk" style="left:642.2px;top:248.4px">4000</div>
<div class="tk yk" style="left:642.2px;top:235.8px">6000</div>
<div class="tk yk" style="left:642.2px;top:223.3px">8000</div>
<div class="fl" style="left:623.2px;top:247.4px">Frequency (Hz)</div>
<div class="lb" style="left:83.4px;top:114.4px;width:61.2px;height:16.4px"><span>Male-Male</span></div>
<div class="lb" style="left:424.4px;top:114.4px;width:71.4px;height:16.7px"><span>Male-Female</span></div>
<div class="lb" style="left:83.2px;top:201.2px;width:71.5px;height:16.8px"><span>Female-Male</span></div>
<div class="lb" style="left:424.4px;top:201.3px;width:81.1px;height:17.0px"><span>Female-Female</span></div>
<div class="l" style="top:301.19px;left:80.40px;word-spacing:0.150px;">Figure 2: <i>Spectrogram for experimental results. There are 4 samples which are combinations of genders, where genders on the left are</i></div>
<div class="l" style="top:315.49px;left:80.40px;word-spacing:0.556px;"><i>the targets and the right are set as interference. Each set demonstrates clean speech, mixed speech and separated speech from left to</i></div>
<div class="l" style="top:329.79px;left:80.40px;"><i>right respectively.</i></div>
<svg class="f3" width="827" height="600" viewBox="0 0 827 600"><defs><marker id="ah" markerWidth="6" markerHeight="6" refX="4.2" refY="3" orient="auto" markerUnits="userSpaceOnUse"><path d="M0.2,1.1 L4.4,3 L0.2,4.9 z" fill="#222"/></marker></defs><rect x="80.9" y="364.6" width="313.6" height="177" fill="none" stroke="#606060" stroke-width="1.2"/><rect x="105.4" y="397.1" width="62.0" height="24.2" fill="#fff" stroke="#666" stroke-width="1.1"/><line x1="105.4" y1="421.6" x2="167.4" y2="421.6" stroke="#333" stroke-width="1"/><rect x="105.4" y="431.3" width="62.0" height="19.0" fill="#fff" stroke="#666" stroke-width="1.1"/><line x1="105.4" y1="450.6" x2="167.4" y2="450.6" stroke="#333" stroke-width="1"/><rect x="105.4" y="459.8" width="62.0" height="19.5" fill="#fff" stroke="#666" stroke-width="1.1"/><line x1="105.4" y1="479.6" x2="167.4" y2="479.6" stroke="#333" stroke-width="1"/><line x1="136.6" y1="372.5" x2="136.6" y2="396.6" stroke="#222" stroke-width="1.0" marker-end="url(#ah)"/><line x1="136.6" y1="421.6" x2="136.6" y2="430.8" stroke="#222" stroke-width="1.0" marker-end="url(#ah)"/><line x1="136.6" y1="450.6" x2="136.6" y2="459.3" stroke="#222" stroke-width="1.0" marker-end="url(#ah)"/><line x1="136.6" y1="479.6" x2="136.6" y2="502.5" stroke="#222" stroke-width="1.0" marker-end="url(#ah)"/><rect x="206.5" y="397.1" width="62.0" height="24.2" fill="#fff" stroke="#666" stroke-width="1.1"/><line x1="206.5" y1="421.6" x2="268.5" y2="421.6" stroke="#333" stroke-width="1"/><rect x="206.5" y="431.3" width="62.0" height="19.0" fill="#fff" stroke="#666" stroke-width="1.1"/><line x1="206.5" y1="450.6" x2="268.5" y2="450.6" stroke="#333" stroke-width="1"/><rect x="206.5" y="459.8" width="62.0" height="19.5" fill="#fff" stroke="#666" stroke-width="1.1"/><line x1="206.5" y1="479.6" x2="268.5" y2="479.6" stroke="#333" stroke-width="1"/><line x1="237.5" y1="372.5" x2="237.5" y2="396.6" stroke="#222" stroke-width="1.6" marker-end="url(#ah)"/><line x1="237.5" y1="421.6" x2="237.5" y2="430.8" stroke="#222" stroke-width="1.6" marker-end="url(#ah)"/><line x1="237.5" y1="450.6" x2="237.5" y2="459.3" stroke="#222" stroke-width="1.6" marker-end="url(#ah)"/><line x1="237.5" y1="479.6" x2="237.5" y2="502.5" stroke="#222" stroke-width="1.6" marker-end="url(#ah)"/><rect x="307.4" y="397.1" width="62.0" height="24.2" fill="#fff" stroke="#666" stroke-width="1.1"/><line x1="307.4" y1="421.6" x2="369.4" y2="421.6" stroke="#333" stroke-width="1"/><rect x="307.4" y="431.3" width="62.0" height="19.0" fill="#fff" stroke="#666" stroke-width="1.1"/><line x1="307.4" y1="450.6" x2="369.4" y2="450.6" stroke="#333" stroke-width="1"/><rect x="307.4" y="459.8" width="62.0" height="19.5" fill="#fff" stroke="#666" stroke-width="1.1"/><line x1="307.4" y1="479.6" x2="369.4" y2="479.6" stroke="#333" stroke-width="1"/><line x1="338.5" y1="372.5" x2="338.5" y2="396.6" stroke="#222" stroke-width="1.0" marker-end="url(#ah)"/><line x1="338.5" y1="421.6" x2="338.5" y2="430.8" stroke="#222" stroke-width="1.0" marker-end="url(#ah)"/><line x1="338.5" y1="450.6" x2="338.5" y2="459.3" stroke="#222" stroke-width="1.0" marker-end="url(#ah)"/><line x1="338.5" y1="479.6" x2="338.5" y2="487.6" stroke="#222" stroke-width="1" marker-end="url(#ah)"/><circle cx="338.5" cy="494.1" r="6.2" fill="none" stroke="#222" stroke-width="1"/><line x1="332.3" y1="494.1" x2="344.7" y2="494.1" stroke="#222" stroke-width="1"/><line x1="338.5" y1="487.9" x2="338.5" y2="500.3" stroke="#222" stroke-width="1"/><line x1="338.5" y1="500.3" x2="338.5" y2="509" stroke="#222" stroke-width="1" marker-end="url(#ah)"/><polyline points="338.5,384.4 296.5,384.4 296.5,494.1 331.9,494.1" fill="none" stroke="#222" stroke-width="1" marker-end="url(#ah)"/></svg>
<div class="sans" style="left:76.60px;top:405.14px;width:120px;font-size:8.5px;line-height:8.5px;">Linear</div>
<div class="sans" style="left:177.50px;top:401.54px;width:120px;font-size:8.5px;line-height:8.5px;">Conv1D</div>
<div class="sans" style="left:177.50px;top:411.97px;width:120px;font-size:5.7px;line-height:5.7px;">(kernel: 5, stride: 1)</div>
<div class="sans" style="left:278.50px;top:401.54px;width:120px;font-size:8.5px;line-height:8.5px;">Conv1D</div>
<div class="sans" style="left:278.50px;top:411.97px;width:120px;font-size:5.7px;line-height:5.7px;">(kernel: 5, stride: 1)</div>
<div class="sans" style="left:76.60px;top:436.44px;width:120px;font-size:8.5px;line-height:8.5px;">BatchNorm1D</div>
<div class="sans" style="left:76.60px;top:464.94px;width:120px;font-size:8.5px;line-height:8.5px;">ReLU</div>
<div class="sans" style="left:177.50px;top:436.44px;width:120px;font-size:8.5px;line-height:8.5px;">BatchNorm1D</div>
<div class="sans" style="left:177.50px;top:464.94px;width:120px;font-size:8.5px;line-height:8.5px;">ReLU</div>
<div class="sans" style="left:278.50px;top:436.44px;width:120px;font-size:8.5px;line-height:8.5px;">BatchNorm1D</div>
<div class="sans" style="left:278.50px;top:464.94px;width:120px;font-size:8.5px;line-height:8.5px;">ReLU</div>
<div class="serif" style="left:76.20px;top:518.19px;width:120px;font-size:11px;line-height:11px;">(a) FCBlock</div>
<div class="serif" style="left:177.50px;top:518.19px;width:120px;font-size:11px;line-height:11px;">(b) ConvBlock</div>
<div class="serif" style="left:277.70px;top:518.19px;width:120px;font-size:11px;line-height:11px;">(c) ResBlock</div>
<div class="l" style="top:555.79px;left:80.4px;width:314.1px;text-align:center">Figure 3: <i>Configuration of neural network blocks</i></div>
<div class="l" style="top:583.59px;left:80.40px;word-spacing:0.697px;">Table 2: <i>Audio-visual speech separation and speaker isolation</i></div>
<div class="l" style="top:597.59px;left:80.40px;"><i>results on VoxCeleb2</i></div>
<div class="hr" style="left:88.2px;top:619.55px;width:295.1px;height:1.3px"></div>
<div class="hr" style="left:88.2px;top:641.30px;width:295.1px;height:1.0px"></div>
<div class="hr" style="left:88.2px;top:644.90px;width:295.1px;height:1.0px"></div>
<div class="hr" style="left:88.2px;top:666.40px;width:295.1px;height:1.0px"></div>
<div class="hr" style="left:88.2px;top:716.65px;width:295.1px;height:1.3px"></div>
<div class="hr vr" style="left:169.30px;top:624.5px;width:1.0px;height:14.5px"></div>
<div class="hr vr" style="left:169.30px;top:649.5px;width:1.0px;height:15.0px"></div>
<div class="hr vr" style="left:169.30px;top:670.0px;width:1.0px;height:44.5px"></div>
<div class="hr vr" style="left:253.30px;top:624.5px;width:1.0px;height:14.5px"></div>
<div class="hr vr" style="left:253.30px;top:649.5px;width:1.0px;height:15.0px"></div>
<div class="hr vr" style="left:253.30px;top:670.0px;width:1.0px;height:44.5px"></div>
<div class="hr vr" style="left:316.00px;top:624.5px;width:1.0px;height:14.5px"></div>
<div class="hr vr" style="left:316.00px;top:649.5px;width:1.0px;height:15.0px"></div>
<div class="hr vr" style="left:316.00px;top:670.0px;width:1.0px;height:44.5px"></div>
<div class="l" style="top:623.89px;left:96.40px"><b>Method</b></div>
<div class="l" style="top:623.89px;left:179.00px"><b>Criterion</b></div>
<div class="l r" style="top:623.89px;left:157.40px;width:150px"><b>SDRi</b></div>
<div class="l r" style="top:623.89px;left:224.80px;width:150px"><b>Accuracy</b></div>
<div class="l" style="top:649.29px;left:96.40px">Audio-only</div>
<div class="l" style="top:649.29px;left:179.00px">MSE w. PIT</div>
<div class="l r" style="top:649.29px;left:157.40px;width:150px">0.690 dB</div>
<div class="l r" style="top:649.29px;left:224.80px;width:150px">49.94 %</div>
<div class="l" style="top:670.69px;left:96.40px">Audio-visual</div>
<div class="l" style="top:670.69px;left:179.00px">MSE</div>
<div class="l r" style="top:670.69px;left:157.40px;width:150px">2.348 dB</div>
<div class="l r" style="top:670.69px;left:224.80px;width:150px">80.56 %</div>
<div class="l" style="top:684.89px;left:103.60px">+attention</div>
<div class="l" style="top:684.89px;left:179.00px">MSE</div>
<div class="l r" style="top:684.89px;left:157.40px;width:150px">2.413 dB</div>
<div class="l r" style="top:684.89px;left:224.80px;width:150px">80.89 %</div>
<div class="l" style="top:699.09px;left:103.60px">+attention</div>
<div class="l" style="top:699.09px;left:179.00px">MSE w. SRL</div>
<div class="l r" style="top:699.09px;left:157.40px;width:150px">2.528 dB</div>
<div class="l r" style="top:699.09px;left:224.80px;width:150px">80.20 %</div>
<div class="l" style="top:743.99px;left:80.40px;word-spacing:-0.095px;">used to measure the quality of separated signals. The secondary</div>
<div class="l" style="top:758.44px;left:80.40px;word-spacing:2.157px;">evaluation metric is speaker isolation accuracy which shows</div>
<div class="l" style="top:772.89px;left:80.40px;word-spacing:1.223px;">whether the output speech is from the target speaker given in</div>
<div class="l" style="top:787.34px;left:80.40px;word-spacing:0.702px;">the face image. The accuracy indicates the effectiveness of vi-</div>
<div class="l" style="top:801.79px;left:80.40px;word-spacing:0.860px;">sual information to indicate correct target speaker. Audio-only</div>
<div class="l" style="top:816.24px;left:80.40px;word-spacing:-0.263px;">separation method (baseline) shows an accuracy of 49.94% (<i>i.e.</i></div>
<div class="l" style="top:830.69px;left:80.40px;width:314.10px;">random selection).</div>
<div class="l" style="top:860.89px;left:80.4px"><b>5.3.</b></div>
<div class="l" style="top:860.89px;left:106.4px"><b>Experiment results</b></div>
<div class="l" style="top:885.19px;left:80.40px;word-spacing:1.144px;">Table 2 reports the results of our proposed methods using the</div>
<div class="l" style="top:899.69px;left:80.40px;word-spacing:1.370px;">metrics described in Section 5.2. Our baseline is a separation</div>
<div class="l" style="top:914.19px;left:80.40px;word-spacing:0.876px;">network trained using the permutation invariant training (PIT)</div>
<div class="l" style="top:928.69px;left:80.40px;word-spacing:0.897px;">loss [7], a popular method for speech separation. We compare</div>
<div class="l" style="top:943.19px;left:80.40px;word-spacing:0.082px;">three variants of the proposed method – the basic AVSS model,</div>
<div class="l" style="top:957.69px;left:80.40px;word-spacing:1.626px;">the model with attention-based fusion, and the model trained</div>
<div class="l" style="top:972.19px;left:80.40px;word-spacing:1.748px;">with both <i>L</i><sub class="m">SS</sub> and <i>L</i><sub class="m">SRL</sub> losses. The basic AVSS model does</div>
<div class="l" style="top:986.69px;left:80.40px;word-spacing:0.452px;">not include temporal attention and visual vector is padded uni-</div>
<div class="l" style="top:1001.19px;left:80.40px;width:314.10px;">formly along the time direction with the same values.</div>
<div class="l" style="top:1015.69px;left:101.60px;word-spacing:1.538px;">Note that the SDRi values are lower than those typically</div>
<div class="l" style="top:363.89px;left:435.00px;width:314.20px;text-align:center">Table 3: <i>Speech separation results for gender combinations</i></div>
<div class="hr" style="left:444.8px;top:385.55px;width:291.1px;height:1.3px"></div>
<div class="hr" style="left:444.8px;top:407.30px;width:291.1px;height:1.0px"></div>
<div class="hr" style="left:444.8px;top:410.60px;width:291.1px;height:1.0px"></div>
<div class="hr" style="left:444.8px;top:432.20px;width:291.1px;height:1.0px"></div>
<div class="hr" style="left:444.8px;top:497.00px;width:291.1px;height:1.0px"></div>
<div class="hr" style="left:444.8px;top:518.60px;width:291.1px;height:1.0px"></div>
<div class="hr" style="left:444.8px;top:583.45px;width:291.1px;height:1.3px"></div>
<div class="hr vr" style="left:559.40px;top:390.5px;width:1.0px;height:14.5px"></div>
<div class="hr vr" style="left:559.40px;top:437.0px;width:1.0px;height:57.5px"></div>
<div class="hr vr" style="left:559.40px;top:523.5px;width:1.0px;height:57.0px"></div>
<div class="hr vr" style="left:647.70px;top:390.5px;width:1.0px;height:14.5px"></div>
<div class="hr vr" style="left:647.70px;top:437.0px;width:1.0px;height:57.5px"></div>
<div class="hr vr" style="left:647.70px;top:523.5px;width:1.0px;height:57.0px"></div>
<div class="l" style="top:389.99px;left:453.60px"><b>Mixture</b></div>
<div class="l r" style="top:389.99px;left:489.50px;width:150px"><b>SDRi</b></div>
<div class="l r" style="top:389.99px;left:576.90px;width:150px"><b>Accuracy</b></div>
<div class="l" style="top:414.89px;left:444.80px;width:291.10px;text-align:center"><b>Seen-Heard Speaker</b></div>
<div class="l" style="top:500.89px;left:444.80px;width:291.10px;text-align:center"><b>Unseen-Unheard Speaker</b></div>
<div class="l" style="top:435.79px;left:453.60px">Male-Male</div>
<div class="l r" style="top:435.79px;left:489.20px;width:150px">2.084 dB</div>
<div class="l r" style="top:435.79px;left:576.90px;width:150px">74.8 %</div>
<div class="l" style="top:450.39px;left:453.60px">Male-Female</div>
<div class="l r" style="top:450.39px;left:489.20px;width:150px">3.039 dB</div>
<div class="l r" style="top:450.39px;left:576.90px;width:150px">94.4 %</div>
<div class="l" style="top:464.99px;left:453.60px">Female-Male</div>
<div class="l r" style="top:464.99px;left:489.20px;width:150px">3.821 dB</div>
<div class="l r" style="top:464.99px;left:576.90px;width:150px">93.8 %</div>
<div class="l" style="top:479.59px;left:453.60px">Female-Female</div>
<div class="l r" style="top:479.59px;left:489.20px;width:150px">1.930 dB</div>
<div class="l r" style="top:479.59px;left:576.90px;width:150px">71.2 %</div>
<div class="l" style="top:522.49px;left:453.60px">Male-Male</div>
<div class="l r" style="top:522.49px;left:489.20px;width:150px">1.256 dB</div>
<div class="l r" style="top:522.49px;left:576.90px;width:150px">61.2 %</div>
<div class="l" style="top:536.89px;left:453.60px">Male-Female</div>
<div class="l r" style="top:536.89px;left:489.20px;width:150px">3.066 dB</div>
<div class="l r" style="top:536.89px;left:576.90px;width:150px">92.1 %</div>
<div class="l" style="top:551.29px;left:453.60px">Female-Male</div>
<div class="l r" style="top:551.29px;left:489.20px;width:150px">3.830 dB</div>
<div class="l r" style="top:551.29px;left:576.90px;width:150px">94.5 %</div>
<div class="l" style="top:565.69px;left:453.60px">Female-Female</div>
<div class="l r" style="top:565.69px;left:489.20px;width:150px">1.198 dB</div>
<div class="l r" style="top:565.69px;left:576.90px;width:150px">59.6 %</div>
<div class="l" style="top:606.69px;left:435.00px;word-spacing:2.663px;">reported for source separation on other datasets, since clips</div>
<div class="l" style="top:621.13px;left:435.00px;word-spacing:0.646px;">in VoxCeleb2 contain environmental noise which degrades the</div>
<div class="l" style="top:635.57px;left:435.00px;word-spacing:1.583px;">SDR numbers when the network correctly removes the noise</div>
<div class="l" style="top:650.01px;left:435.00px;width:314.10px;">from the target.</div>
<div class="l" style="top:664.45px;left:456.20px;word-spacing:-0.262px;">We report accuracy for different gender pairs, which signif-</div>
<div class="l" style="top:678.89px;left:435.00px;word-spacing:0.945px;">icantly affects the performance as shown in Table 3. Mixtures</div>
<div class="l" style="top:693.33px;left:435.00px;word-spacing:0.404px;">with same gender, <i>i.e., M-M</i> and <i>F-F</i> sets, are more difficult to</div>
<div class="l" style="top:707.77px;left:435.00px;word-spacing:0.791px;">distinguish by given the images, and the SDR improvement is</div>
<div class="l" style="top:722.21px;left:435.00px;word-spacing:0.619px;">relatively small. The results for different gender sets, <i>i.e., F-M</i></div>
<div class="l" style="top:736.65px;left:435.00px;word-spacing:0.178px;">and <i>M-F</i> sets, show significantly higher SDR gain and identifi-</div>
<div class="l" style="top:751.09px;left:435.00px;word-spacing:-0.543px;">cation accuracy since it is much easier to select the target speech</div>
<div class="l" style="top:765.53px;left:435.00px;word-spacing:-0.277px;">using the given image. Unseen-unheard test sets consist of sam-</div>
<div class="l" style="top:779.97px;left:435.00px;word-spacing:1.266px;">ples that are not seen during the training of both cross-modal</div>
<div class="l" style="top:794.41px;left:435.00px;word-spacing:0.530px;">biometrics and speech separation tasks. Although the discrimi-</div>
<div class="l" style="top:808.85px;left:435.00px;word-spacing:0.147px;">nation performance of unseen people is slightly lower than that</div>
<div class="l" style="top:823.29px;left:435.00px;width:314.10px;">of seen pairs, the performance is still far above the baseline.</div>
<div class="l h2" style="top:852.47px;left:435.0px;width:314.1px"><b>6.</b><span style="display:inline-block;width:11.8px"></span><b>Conclusion</b></div>
<div class="l" style="top:878.09px;left:435.00px;word-spacing:0.039px;">We proposed a novel audio-visual speech enhancement method</div>
<div class="l" style="top:892.54px;left:435.00px;word-spacing:0.555px;">that can isolate a specific speaker from multi-talker simultane-</div>
<div class="l" style="top:906.99px;left:435.00px;word-spacing:0.639px;">ous speech using a conditional embedding represented by face</div>
<div class="l" style="top:921.44px;left:435.00px;word-spacing:2.228px;">image. By using self-supervision, speaker representation can</div>
<div class="l" style="top:935.89px;left:435.00px;word-spacing:1.469px;">be retrieved from a face image in latent space, which is then</div>
<div class="l" style="top:950.34px;left:435.00px;word-spacing:1.829px;">used to condition the speech enhancement network. This ap-</div>
<div class="l" style="top:964.79px;left:435.00px;word-spacing:0.188px;">proach overcomes the permutation problem that is unavoidable</div>
<div class="l" style="top:979.24px;left:435.00px;word-spacing:1.480px;">in audio-only source separation, and consistently reconstructs</div>
<div class="l" style="top:993.69px;left:435.00px;word-spacing:1.270px;">speech from the target identity. The experimental results con-</div>
<div class="l" style="top:1008.14px;left:435.00px;width:314.10px;">firm its effectiveness on the speech enhancement task.</div>
</div></body></html>
